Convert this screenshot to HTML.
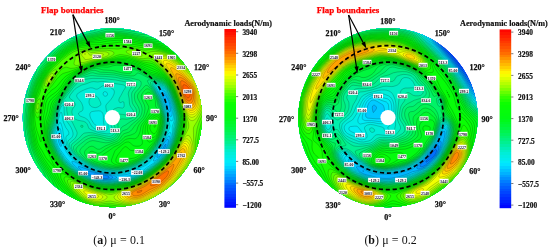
<!DOCTYPE html>
<html lang="en"><head><meta charset="utf-8"><title>Aerodynamic loads</title>
<style>
html,body{margin:0;padding:0;background:#fff;}
body{width:550px;height:252px;overflow:hidden;position:relative;font-family:"Liberation Serif",serif;}
svg{position:absolute;left:0;top:0;display:block;font-family:"Liberation Serif",serif;}
.cap{position:absolute;top:231.9px;font-size:11.9px;line-height:16px;color:#111;white-space:nowrap;word-spacing:.3px}
</style></head><body>
<svg width="550" height="252" viewBox="0 0 550 252">
<defs>
<clipPath id="clip"><circle r="89.6"/></clipPath>
<linearGradient id="cb" x1="0" y1="0" x2="0" y2="1"><stop offset="0.00%" stop-color="#ff0600"/><stop offset="1.56%" stop-color="#ff0600"/><stop offset="1.56%" stop-color="#ff1300"/><stop offset="3.12%" stop-color="#ff1300"/><stop offset="3.12%" stop-color="#ff1f00"/><stop offset="4.69%" stop-color="#ff1f00"/><stop offset="4.69%" stop-color="#ff2c00"/><stop offset="6.25%" stop-color="#ff2c00"/><stop offset="6.25%" stop-color="#ff3800"/><stop offset="7.81%" stop-color="#ff3800"/><stop offset="7.81%" stop-color="#ff4500"/><stop offset="9.38%" stop-color="#ff4500"/><stop offset="9.38%" stop-color="#ff5100"/><stop offset="10.94%" stop-color="#ff5100"/><stop offset="10.94%" stop-color="#ff5e00"/><stop offset="12.50%" stop-color="#ff5e00"/><stop offset="12.50%" stop-color="#ff6d00"/><stop offset="14.06%" stop-color="#ff6d00"/><stop offset="14.06%" stop-color="#ff8000"/><stop offset="15.62%" stop-color="#ff8000"/><stop offset="15.62%" stop-color="#ff9300"/><stop offset="17.19%" stop-color="#ff9300"/><stop offset="17.19%" stop-color="#ffa600"/><stop offset="18.75%" stop-color="#ffa600"/><stop offset="18.75%" stop-color="#ffb900"/><stop offset="20.31%" stop-color="#ffb900"/><stop offset="20.31%" stop-color="#ffcd00"/><stop offset="21.88%" stop-color="#ffcd00"/><stop offset="21.88%" stop-color="#ffe100"/><stop offset="23.44%" stop-color="#ffe100"/><stop offset="23.44%" stop-color="#fff500"/><stop offset="25.00%" stop-color="#fff500"/><stop offset="25.00%" stop-color="#f4ff00"/><stop offset="26.56%" stop-color="#f4ff00"/><stop offset="26.56%" stop-color="#dfff00"/><stop offset="28.12%" stop-color="#dfff00"/><stop offset="28.12%" stop-color="#caff00"/><stop offset="29.69%" stop-color="#caff00"/><stop offset="29.69%" stop-color="#b5ff00"/><stop offset="31.25%" stop-color="#b5ff00"/><stop offset="31.25%" stop-color="#9cff00"/><stop offset="32.81%" stop-color="#9cff00"/><stop offset="32.81%" stop-color="#81ff00"/><stop offset="34.38%" stop-color="#81ff00"/><stop offset="34.38%" stop-color="#65ff00"/><stop offset="35.94%" stop-color="#65ff00"/><stop offset="35.94%" stop-color="#4aff00"/><stop offset="37.50%" stop-color="#4aff00"/><stop offset="37.50%" stop-color="#32ff00"/><stop offset="39.06%" stop-color="#32ff00"/><stop offset="39.06%" stop-color="#20ff00"/><stop offset="40.62%" stop-color="#20ff00"/><stop offset="40.62%" stop-color="#0dff00"/><stop offset="42.19%" stop-color="#0dff00"/><stop offset="42.19%" stop-color="#08fe03"/><stop offset="43.75%" stop-color="#08fe03"/><stop offset="43.75%" stop-color="#07fd07"/><stop offset="45.31%" stop-color="#07fd07"/><stop offset="45.31%" stop-color="#05fc0b"/><stop offset="46.88%" stop-color="#05fc0b"/><stop offset="46.88%" stop-color="#03fb0e"/><stop offset="48.44%" stop-color="#03fb0e"/><stop offset="48.44%" stop-color="#01fa12"/><stop offset="50.00%" stop-color="#01fa12"/><stop offset="50.00%" stop-color="#00f91a"/><stop offset="51.56%" stop-color="#00f91a"/><stop offset="51.56%" stop-color="#00f827"/><stop offset="53.12%" stop-color="#00f827"/><stop offset="53.12%" stop-color="#00f733"/><stop offset="54.69%" stop-color="#00f733"/><stop offset="54.69%" stop-color="#00f640"/><stop offset="56.25%" stop-color="#00f640"/><stop offset="56.25%" stop-color="#00f44e"/><stop offset="57.81%" stop-color="#00f44e"/><stop offset="57.81%" stop-color="#00f35e"/><stop offset="59.38%" stop-color="#00f35e"/><stop offset="59.38%" stop-color="#00f26f"/><stop offset="60.94%" stop-color="#00f26f"/><stop offset="60.94%" stop-color="#00f17f"/><stop offset="62.50%" stop-color="#00f17f"/><stop offset="62.50%" stop-color="#00f090"/><stop offset="64.06%" stop-color="#00f090"/><stop offset="64.06%" stop-color="#00efa3"/><stop offset="65.62%" stop-color="#00efa3"/><stop offset="65.62%" stop-color="#00efb6"/><stop offset="67.19%" stop-color="#00efb6"/><stop offset="67.19%" stop-color="#00eec9"/><stop offset="68.75%" stop-color="#00eec9"/><stop offset="68.75%" stop-color="#00eed8"/><stop offset="70.31%" stop-color="#00eed8"/><stop offset="70.31%" stop-color="#00ede3"/><stop offset="71.88%" stop-color="#00ede3"/><stop offset="71.88%" stop-color="#00ecee"/><stop offset="73.44%" stop-color="#00ecee"/><stop offset="73.44%" stop-color="#00ebf9"/><stop offset="75.00%" stop-color="#00ebf9"/><stop offset="75.00%" stop-color="#00e3ff"/><stop offset="76.56%" stop-color="#00e3ff"/><stop offset="76.56%" stop-color="#00d3ff"/><stop offset="78.12%" stop-color="#00d3ff"/><stop offset="78.12%" stop-color="#00c2ff"/><stop offset="79.69%" stop-color="#00c2ff"/><stop offset="79.69%" stop-color="#00b2ff"/><stop offset="81.25%" stop-color="#00b2ff"/><stop offset="81.25%" stop-color="#00a1ff"/><stop offset="82.81%" stop-color="#00a1ff"/><stop offset="82.81%" stop-color="#0090ff"/><stop offset="84.38%" stop-color="#0090ff"/><stop offset="84.38%" stop-color="#007eff"/><stop offset="85.94%" stop-color="#007eff"/><stop offset="85.94%" stop-color="#006dff"/><stop offset="87.50%" stop-color="#006dff"/><stop offset="87.50%" stop-color="#005eff"/><stop offset="89.06%" stop-color="#005eff"/><stop offset="89.06%" stop-color="#0051ff"/><stop offset="90.62%" stop-color="#0051ff"/><stop offset="90.62%" stop-color="#0045ff"/><stop offset="92.19%" stop-color="#0045ff"/><stop offset="92.19%" stop-color="#0038ff"/><stop offset="93.75%" stop-color="#0038ff"/><stop offset="93.75%" stop-color="#002cff"/><stop offset="95.31%" stop-color="#002cff"/><stop offset="95.31%" stop-color="#001fff"/><stop offset="96.88%" stop-color="#001fff"/><stop offset="96.88%" stop-color="#0013ff"/><stop offset="98.44%" stop-color="#0013ff"/><stop offset="98.44%" stop-color="#0006ff"/><stop offset="100.00%" stop-color="#0006ff"/></linearGradient>
</defs>
<rect width="550" height="252" fill="#fff"/>
<g transform="translate(112.4 117.6)">
<g clip-path="url(#clip)">
<circle r="90.6" fill="#0008ff"/>
<g transform="scale(.2)" stroke="#000" stroke-opacity=".8" stroke-width="1.3" stroke-linejoin="round">
<circle r="453.0" fill="#0019ff" stroke="none"/>
<circle r="453.0" fill="#002aff" stroke="none"/>
<circle r="453.0" fill="#003aff" stroke="none"/>
<circle r="453.0" fill="#004bff" stroke="none"/>
<circle r="453.0" fill="#005cff" stroke="none"/>
<circle r="453.0" fill="#0070ff" stroke="none"/>
<circle r="453.0" fill="#0087ff" stroke="none"/>
<path fill="#009eff" fill-rule="evenodd" d="M-458-458l915 0 0 915-915 0 0-915zM-88 282l-3 0-2 3 0 2 6 5 11 5 16 5 17 2 15 0 10-2 2-5-7-5-19-5-34-5-12 0z"/>
<path fill="#00b5ff" fill-rule="evenodd" d="M-458-458l915 0 0 915-915 0 0-915zM-133 267l3 5 21 15 20 10 16 6 20 4 20 2 22-2 12-5 1-5-6-5-15-5-74-14-30-6-10 0zM262 137l-10 18-5 11 0 3 5-2 10-15 5-11 1-4-1-5-5 5z"/>
<path fill="#00caff" fill-rule="evenodd" d="M-458-458l915 0 0 915-915 0 0-915zM-168 243l-4 4 4 5 10 10 14 10 25 15 21 10 28 10 27 5 26 0 24-5 12-5 3-5-8-5-14-5-22-5-61-11-20-5-65-23zM252-125l-2 2-1 5 1 5 17 47 10 24 5 10 5 4 3-5 0-15-3-17-5-17-5-11-10-18-5-7-5-5-5-2zM272 110l-10 12-5 7-30 54-4 9-1 6 5 1 5-2 10-8 15-17 10-16 10-21 4-18 0-5-4-4-5 2z"/>
<path fill="#00e0ff" fill-rule="evenodd" d="M-458-458l915 0 0 915-915 0 0-915zM-268 97l-1 0-3 5 3 20 6 16 5 7 3-3 0-5-3-12-5-15-2-3-3-10zM-203 220l0 2 5 10 9 10 23 20 21 15 28 15 22 10 22 7 25 5 25 1 20-2 71-16 31-10 26-10 9-5 6-5 4-5-2-2-5-1-10 3-40 17-20 6-25 3-15 0-85-16-35-8-30-10-20-9-45-24-10-3-5 2zM242-140l-5 2-1 5 2 10 11 25 18 50 10 23 5 11 5 7 5 3 5-4 2-10 0-10-4-25-3-13-5-16-10-23-10-17-9-11-6-4-5-2-5-1zM282 92l-5 3-5 5-15 21-23 41-22 35-7 15 1 5 1 1 5-1 5-3 10-6 10-8 15-15 15-21 11-22 4-10 5-15 2-10-1-10-1-4-5-1z"/>
<path fill="#00ecf7" fill-rule="evenodd" d="M-458-458l915 0 0 915-915 0 0-915zM-268 56l-10 12-5 19 0 15 5 22 5 14 5 11 10 16 25 35 27 32 15 15 25 20 15 10 28 15 21 10 24 8 20 5 20 3 20 0 15-2 52-9 23-5 16-5 28-10 11-5 18-10 27-22 50-33 15-12 15-16 15-20 15-28 6-14 4-14 2-16 0-10-2-11-5-2-5 3-10 13-15 23-28 49-22 33-20 26-15 14-15 8-24 9-31 13-25 10-25 6-15 1-10 0-20-2-65-11-25-6-20-6-25-10-20-9-45-27-10-7-7-7-9-10-11-15-5-10-9-25-8-30-3-15-3-29-5-10-5 3zM232-148l-5 4 0 6 5 13 17 37 18 53 15 35 5 9 5 7 5 1 5-6 1-4 2-10 0-15-3-23-5-22-10-30-12-25-7-10-6-8-8-7-7-4-5-2-10 1z"/>
<path fill="#00ede8" fill-rule="evenodd" d="M-458-458l915 0 0 915-915 0 0-915zM222-154l-2 6 2 10 22 45 18 55 22 60 3 15 1 5-1 5-3 10-15 30-47 80-25 34-10 11-15 14-10 7-10 6-60 25-30 10-25 4-10 0-15-1-75-13-35-10-35-13-16-9-47-30-15-15-14-20-7-15-5-15-8-50-4-30-4-15-5-15-5-3-15 28-7 15-3 15-1 10 0 10 6 23 10 24 10 18 24 35 27 30 16 15 25 20 22 15 31 16 30 12 27 7 28 3 30-1 45-7 25-5 15-4 32-11 22-10 16-10 70-51 20-17 20-23 15-24 12-25 5-15 4-15 2-20-1-35 1-5 7-21 3-14 0-10-2-25-6-30-10-31-15-33-11-16-9-9-5-3-5-3-10-3-10 0-5 2z"/>
<path fill="#00eed9" fill-rule="evenodd" d="M-458-458l915 0 0 915-915 0 0-915zM-83-33l-15 2-5 1-5 3-3 4-2 5 0 5 2 10 4 10 9 15 5 7 8 8 13 10 9 5 5 1 5 0 3-1 6-5 2-5 0-5-3-20 0-25-2-10-2-5-4-5-5-4-10-2-15 1zM-43-128l-3 5-1 5 4 8 5 3 5 0 5-2 3-4 1-5-2-5-2-3-5-3-5-1-5 2zM217-160l-2 2-1 5 2 10 21 40 6 15 32 100 4 20-1 15-3 15-11 25-40 70-12 18-15 20-11 12-14 13-10 7-15 9-50 22-20 7-20 5-15 3-10 1-15-1-25-3-35-5-25-6-20-5-20-7-20-9-15-8-44-28-11-9-14-16-6-10-5-10-4-10-3-15-2-20-1-10 1-5 3-5 1-2 7-3 3-4 0-9-5-11-10-13-10-22-5-16-5-36-5-3-5 9-11 45-14 34-3 11-2 10 0 15 1 10 4 15 10 26 15 26 20 29 17 19 25 25 25 20 23 16 38 19 26 10 26 7 30 4 30-1 60-10 22-5 31-10 23-10 17-10 43-30 29-22 20-17 20-23 15-23 15-30 5-15 5-20 4-45 7-35 1-20-2-25-10-40-10-29-10-21-5-10-7-10-8-10-7-5-8-5-10-4-5-1-10 1-5 2z"/>
<path fill="#00eec5" fill-rule="evenodd" d="M-458-458l915 0 0 915-915 0 0-915zM-48-159l-5 3-15 10-5 3-5 1-5 0-15-6-10-1-10 2-20 7-15 7-17 10-5 5-3 5-1 5 2 5 3 5 13 15 7 10 4 10 3 10 0 10-1 5-5 6-10 4-6 5 0 5 2 5 5 5 24 9 10 6 10 11 14 24 4 5 7 5 15 9 10 4 10 3 10 0 11-1 9-4 5-6 1-5 0-15-4-30-2-30-5-30 0-5 1-5 4-5 20-22 9-13 7-15 2-10-1-5-2-5-5-5-15-10-10-4-10-3-10 0-5 1zM227-168l-10 1-5 2-2 2-1 5 0 5 6 15 21 40 8 20 21 70 6 20 2 20 0 15-5 20-8 20-41 70-13 20-14 17-10 11-14 12-11 8-13 7-52 23-25 8-15 4-15 3-15 0-40-5-30-5-25-5-20-7-20-7-20-10-50-33-14-11-8-10-11-20-5-15-3-15 2-10 4-5 10-7 7-8 4-10 0-10-4-15-7-15-10-15-11-15-6-10-3-12-3-18-1-35-1-3-5-2-5 4-5 8-5 12-5 17-10 44-17 45-2 10 0 10 0 10 3 15 4 15 6 15 6 13 10 17 20 30 17 20 25 25 25 20 23 16 35 18 27 11 28 8 15 3 15 2 30-1 45-6 34-6 31-9 27-11 19-10 29-20 35-25 25-21 20-21 15-20 16-28 10-25 6-20 3-15 4-35 6-35 1-10 0-10-2-15-8-40-11-33-15-34-11-18-9-10-5-4-15-8-15-3zM-95-108l7-1 5 0 5 3 8 8 10 20 3 10-2 5-5 5-9 5-10 3-5 0-10-2-5-2-6-4-4-5-2-5-2-5 0-10 3-10 4-5 6-5 9-5z"/>
<path fill="#00efac" fill-rule="evenodd" d="M-458-458l915 0 0 915-915 0 0-915zM-103-179l-10 3-20 8-20 5-25 14-10 8-5 5-18 23-2 5-2 5 1 5 19 15 7 10 2 5 0 5-2 5-10 13-3 7-2 10 2 10 4 10 6 10 8 7 10 4 30 6 10 5 7 8 8 20 4 5 6 3 31 12 14 4 35 5 10 0 5-1 6-3 4-5 2-5 1-5-1-5-7-25-3-20 0-15 3-17 5-11 5-6 10-8 15-5 5 0 15 2 5 0 6-5 1-10-2-15-5-2-10 5-5 0-5-8 0-5 1-5 2-5 9-15 10-20 10-15 2-5-2-5-8-5-14-3-35-5-45-9-15-1-20 3-20-2-10 1zM222-173l-10 1-5 2-2 2-2 5 1 5 5 15 24 45 8 20 18 60 6 20 3 25 0 20-5 20-7 20-8 15-23 40-16 25-12 15-13 15-12 11-15 11-15 9-45 21-30 10-15 4-15 3-15 0-30-3-35-5-20-4-30-9-25-10-14-8-44-30-13-10-9-11-11-19-6-15-1-10 2-5 5-5 13-10 10-10 6-10 2-5 2-10-3-10-10-20-12-25-4-5-13-14-3-6-7-30-2-45-3-5-5 1-10 6-5 5-5 8-5 11-10 34-8 35-17 47-3 18 0 10 2 15 6 20 5 15 15 29 14 21 11 15 18 20 26 25 25 20 26 16 35 18 29 11 26 7 30 3 15 0 20-1 50-8 30-6 30-10 22-10 18-10 37-25 33-25 25-23 19-22 16-24 13-26 7-20 6-20 12-75 1-20-2-25-10-40-12-35-8-20-7-13-11-17-14-14-15-8-10-2-10-1z"/>
<path fill="#00f093" fill-rule="evenodd" d="M-458-458l915 0 0 915-915 0 0-915zM-118-194l-35 6-10 4-10 8-20 22-43 56-17 20-10 16-8 24-16 60-13 35-4 20 0 20 4 20 7 20 12 25 15 25 18 25 23 25 22 20 27 20 23 14 35 17 30 12 25 6 25 3 25 0 25-2 40-6 30-7 30-10 28-12 25-15 35-25 32-26 20-19 17-20 13-20 13-25 10-25 7-25 10-65 2-15 0-15-4-25-8-35-10-30-15-35-10-16-10-13-10-9-10-6-15-5-15-1-15 3-3 2-1 5 1 10 4 10 24 42 10 23 23 75 4 25 0 15-1 15-3 15-4 15-6 15-11 20-24 40-22 30-11 12-10 9-25 18-15 8-20 10-30 11-30 9-20 3-25 0-40-5-25-5-35-10-25-11-23-14-34-25-8-6-8-9-7-10-5-10-3-10 0-5 1-5 3-5 36-30 18-20 5-3 5-2 20-2 20 1 30 8 50 10 10-1 11-6 4-5 4-5 2-5 2-10-1-10-7-20-3-15 1-10 1-5 6-9 5-4 5-3 15-3 15 1 30 6 10-1 5-3 5-4 2-5 1-5 0-5-2-5-11-15-5-10-2-10-1-20-5-25 2-10 2-5 13-20 2-5-1-5-3-5-6-5-11-4-30-5-30-6-65-7-50-1-20 2zM-160 42l2-2 5-2 5 2 1 2 0 5-1 1-5 1-4-2-3-5z"/>
<path fill="#00f17c" fill-rule="evenodd" d="M-458-458l915 0 0 915-915 0 0-915zM-423-160l-5 4-5 7-10 23-5 17-1 11 1 16 5 9 2-5 3-5 5-15 5-21 5-24 1-10-1-7zM-103-444l-4 1-11 5-3 5 3 0 13 0 22-5 7-5-7-4-5 0-15 3zM-118-208l-25 6-15 5-10 5-10 8-15 17-21 29-19 24-25 36-8 15-9 25-15 55-14 40-4 20 1 15 3 20 8 25 9 20 17 30 18 25 18 20 27 25 26 20 24 15 34 17 30 11 25 7 25 4 25 1 25-2 45-7 30-6 30-10 25-11 24-14 36-25 35-28 20-19 16-18 14-21 13-24 12-30 8-25 10-60 2-19 0-16-4-25-10-40-16-43-10-22-10-16-10-13-10-8-10-6-15-5-15-2-20 2-6 3-1 5 1 5 3 10 11 20 18 30 9 20 24 75 4 20 1 15 0 15-2 15-5 20-5 15-10 20-17 28-18 27-12 16-20 20-15 12-15 10-15 8-25 12-40 13-20 5-20 1-33-2-32-5-22-5-31-10-22-10-16-10-40-30-10-10-4-5-5-10-2-10 0-5 3-5 5-5 44-36 10-6 15-6 15-2 10 0 40 9 25 7 10 2 5-1 10-2 9-5 6-5 5-7 4-8 5-15 2-15-1-20 1-5 4-7 5-5 10-4 25 2 10-2 10-2 10-5 5-3 5-5 6-9 3-10-1-10-4-10-11-15-5-10-2-10-2-30 1-10 2-5 19-25 2-5 1-5-2-5-4-5-8-6-15-7-15-4-30-4-30-7-55-5-35-1-25-3-10 0-10 2z"/>
<path fill="#00f267" fill-rule="evenodd" d="M-458-458l359 0-19 5-29 10-16 6-18 9-15 10-16 15-3 5 2 2 5 1 21-3 18-5 36-13 56-12 39-12 10-2 20-1 25 1 65 7 30 5 10 0 6-3-2-5-7-5-16-5-16-3-26-7 396 0 0 915-915 0 0-385 5 16 10 21 5 7 5 1 1-10 0-10-5-50-1-20 2-50 5-40 6-30 14-55 11-35 17-40 5-20 0-2-5 2-5 4-10 10-10 14-35 58-9 24-6 20 0-345zM-293-349l-10 6-15 10-15 13-10 11-10 14-7 12-4 10-1 5 2 3 5-3 15-12 20-21 20-25 15-17 2-5-2-1-5 0zM-108-223l-54 20-11 7-10 8-15 17-23 33-17 23-30 47-4 10-6 15-15 57-13 38-5 20 0 15 2 20 6 20 8 20 15 30 20 30 17 20 26 25 24 19 25 17 30 16 30 14 25 8 25 6 25 2 25 0 35-4 45-8 25-7 30-12 30-16 30-20 35-27 25-22 19-21 15-20 14-25 13-30 5-15 4-15 10-54 3-21 0-20-3-20-10-39-11-31-12-30-10-20-10-15-12-13-10-7-10-4-20-5-35-2-9 1-3 5 2 5 17 30 23 36 10 19 12 40 13 35 4 15 2 15 0 10 0 15-3 15-6 25-5 15-5 10-17 28-15 23-10 14-13 15-12 12-16 13-15 10-18 10-21 9-15 6-32 10-18 4-15 0-25-1-23-3-26-5-31-9-17-6-19-10-15-10-31-25-10-10-4-5-4-10 1-5 2-5 4-5 10-10 32-25 11-6 15-6 10-1 15 1 30 6 20 7 10 1 15-1 15-6 8-5 7-8 5-9 10-21 5-9 5-7 5-4 15-8 20-14 20-11 15-13 5-6 5-10 3-10 0-10-5-15-12-20-5-10-3-15 0-15 2-8 4-7 14-15 8-10 5-10 1-10-1-5-3-5-8-5-42-10-38-5-40-10-45-3-30-1-10-1-20-5-5-1-10 1zM-54-458l51 0-25 3-10 0-16-3z"/>
<path fill="#00f451" fill-rule="evenodd" d="M-458-458l328 0-33 12-25 12-75 52-45 26-10 8-10 8-15 16-13 16-28 40-24 32-8 13-15 30-18 30-9 21 0-316zM111-458l346 0 0 915-915 0 0-354 15 37 20 41 10 17 15 19 2-5-7-29-11-36-12-75-4-25-1-15 2-55 3-30 5-30 6-25 9-35 10-30 6-15 28-55 11-15 48-53 15-16 20-18 20-16 15-10 15-8 15-6 75-25 85-19 15-3 30-1 25 1 50 5 55 10 30 2 10-1 3-2-5-5-27-20-16-10-16-5zM-108-234l-56 26-14 9-10 10-15 17-35 50-34 54-8 20-15 55-14 40-4 20-2 15 2 20 5 20 7 20 15 30 19 30 15 20 25 25 24 20 30 21 30 17 30 13 30 10 20 5 25 3 25 0 35-3 50-9 25-7 25-9 30-15 32-21 33-25 29-25 21-23 15-20 13-22 13-30 9-25 5-20 10-55 1-25-4-25-8-35-9-26-15-39-10-20-10-15-13-15-12-9-10-5-10-2-35-4-10-3-20-9-24-13-11-4-5-1-5 2-6 8-9 4-15 1-40-5-45-10-25-2-40-2-6-1-19-7-5-1-10 0-10 2zM162-158l5-3 5 0 5 2 5 4 20 26 15 23 8 18 9 30 14 35 5 20 2 15 1 15-3 20-4 20-6 20-6 12-10 18-20 30-14 20-13 15-13 12-16 13-19 12-20 10-21 8-34 11-20 5-15 0-25-1-30-5-20-4-35-11-10-4-13-6-15-10-16-15-15-15-6-10 0-5 1-5 7-10 10-10 17-15 15-9 5-1 10-2 10 1 40 8 15 2 10-1 10-2 25-9 10-6 6-6 14-25 5-7 5-4 5-2 15-5 5-3 22-24 28-22 12-13 5-10 3-10 2-15-1-10-4-15-16-30-3-10 1-10 5-10 31-35z"/>
<path fill="#00f63e" fill-rule="evenodd" d="M-458-458l302 0-17 7-20 12-80 53-40 23-10 7-9 8-35 40-25 35-21 28-7 12-17 35-21 35 0-295zM136-458l321 0 0 915-915 0 0-330 14 35 26 52 15 27 20 31 15 18 15 12 10 3 5-1 1-2 2-5-2-10-9-20-25-40-14-25-6-15-13-35-5-20-10-55-5-30-1-15 1-40 2-25 6-45 6-30 11-40 13-35 21-40 11-20 12-15 49-55 25-23 25-20 20-13 20-9 75-27 15-3 75-16 20-2 30-1 25 2 40 5 75 14 30 7 10 0 10-2 4-2 2-5-1-5-3-5-5-5-7-5-30-14-26-16zM-98-244l-16 6-49 25-15 10-12 10-13 14-8 11-32 47-31 48-5 10-5 15-14 49-14 41-4 20-2 20 1 15 3 15 6 20 13 30 14 25 17 25 17 20 29 27 25 19 30 19 35 18 25 10 30 9 20 3 25 2 25-1 35-4 40-7 30-9 30-12 25-14 31-20 29-22 25-22 21-21 16-20 15-25 15-30 11-30 7-30 8-50 0-20-2-20-9-35-7-25-20-50-7-15-8-13-10-13-10-10-10-7-10-5-10-3-35-5-10-3-15-7-40-23-13-6-7-2-10 0-4 2-2 10-2 5-7 3-10 0-30-4-40-10-10-2-40-2-10-2-15-4-10-2-10 0-10 2zM171-143l6-1 5 2 10 9 15 19 10 16 5 13 6 27 14 29 5 13 5 18 1 15-1 20-3 20-5 20-6 15-11 20-10 15-30 42-12 13-13 12-17 13-16 10-17 8-17 7-43 14-15 3-15 1-15-1-20-2-27-5-49-15-12-5-15-10-10-10-8-10-5-10-1-5 2-9 4-6 11-11 10-6 10-2 5 1 5 2 15 10 5 2 5 0 5 0 5-3 22-13 58-23 10-7 5-5 10-16 5-6 5-4 5-2 20-6 9-6 6-6 17-24 33-32 6-8 4-10 4-15 2-20-3-15-14-30-2-10 0-5 1-5 5-10 12-14 5-4 4-2z"/>
<path fill="#00f72d" fill-rule="evenodd" d="M-458-458l280 0-20 12-80 54-45 24-15 12-37 43-23 33-21 27-9 15-15 35-15 24 0-279zM152-458l305 0 0 915-915 0 0-306 45 94 15 26 15 21 9 10 11 9 10 7 15 9 10 4 5 0 5-2 2-2 3-5-1-10-6-15-23-40-22-35-11-20-10-20-10-25-5-15-5-25-10-55-3-25 0-35 1-30 7-50 6-30 11-40 11-30 7-15 26-45 19-25 38-42 25-24 30-23 20-13 20-10 25-9 50-17 85-17 25-2 30-1 30 2 30 4 70 14 40 10 25 1 10-1 5-2 3-5 1-5-2-5-6-10-10-10-7-5-9-5-30-11-15-9zM2-259l-15 5-10 2-10 0-35-2-15 2-17 4-23 10-45 24-15 10-12 11-9 10-12 15-47 71-13 19-6 10-7 20-9 34-17 51-5 20-2 15 1 20 3 20 6 20 8 20 13 25 16 25 15 20 14 15 21 20 19 15 28 19 25 14 30 15 25 9 30 8 25 4 30 0 30-2 55-10 30-9 30-12 29-16 36-24 33-26 22-20 22-25 14-20 14-25 13-30 9-25 10-45 4-30 0-25-3-20-10-35-12-35-13-35-10-20-13-20-15-16-10-7-15-6-40-8-15-5-50-29-10-4-15-6-38-9-17-3-30-1-20 3zM170-123l7-4 5 0 5 2 10 8 10 14 6 10 2 10 1 25 2 5 14 15 10 17 6 18 2 20 0 15-3 20-5 20-5 15-5 10-10 17-40 55-12 13-17 15-14 10-17 10-24 10-43 15-18 4-10 1-15-1-26-4-25-5-34-12-10-3-12-5-8-5-10-10-5-10-1-10 1-5 5-6 5-2 5-1 5 1 20 9 5 1 10-2 10-6 20-15 25-14 10-5 20-8 10-5 9-7 16-17 5-4 10-4 20-5 10-4 10-5 5-5 5-9 5-17 5-10 7-10 18-19 7-11 5-10 11-30 2-10-2-5-14-25-5-10-1-5 0-10 2-5 3-5 5-5z"/>
<path fill="#00f91c" fill-rule="evenodd" d="M-458-458l260 0-79 55-17 10-39 19-14 11-18 20-19 20-27 40-19 25-9 15-9 30-5 10-5 7 0-262zM171-458l286 0 0 915-915 0 0-285 16 30 16 45 7 15 14 25 12 15 10 10 27 20 23 21 10 6 10 2 10 0 6-4 4-5 1-5-1-10-1-5-3-10-6-13-63-102-12-23-12-27-5-15-5-20-11-60-3-20-1-25 2-45 5-45 6-30 12-40 12-35 10-20 24-40 23-30 33-35 27-25 28-21 20-13 20-10 35-12 40-13 80-15 40-3 25 0 25 2 25 4 65 13 35 9 15 3 40 4 10 0 5-2 5-6 0-5-2-10-9-15-13-15-11-9-10-5-36-11zM7-268l-35 6-45 4-15 3-15 4-19 8-51 27-15 11-13 12-16 20-16 25-35 50-11 15-6 10-7 15-11 42-15 43-4 20-3 20 0 20 1 15 5 20 9 25 15 30 15 25 15 20 14 15 23 22 20 15 30 20 25 14 35 16 25 9 25 7 25 4 30 0 35-3 50-10 30-8 30-13 30-16 33-22 32-25 25-23 20-22 18-25 14-25 16-35 8-25 9-40 4-30 0-25-5-25-11-40-17-45-10-25-11-20-15-20-10-10-10-7-15-7-10-3-25-5-20-6-50-29-10-4-15-6-35-9-20-4-25-1-20 1zM179-103l3-3 5 0 5 3 4 5 2 5-1 6-5 2-5-1-3-2-4-5-2-5 1-5zM205-33l12-2 5 1 5 2 5 4 5 6 5 10 4 14 2 15-1 15-3 20-7 27-10 21-10 16-35 46-18 20-17 15-15 10-10 6-23 9-22 7-20 8-19 5-11 1-10-1-44-10-15-5-8-5-6-5-4-5-2-5 1-5 2-5 5-5 11-10 25-16 25-19 25-11 10-7 20-17 10-5 15-3 25 2 5-2 5-3 5-6 5-9 4-9 3-10 3-20 4-10 3-5 20-25 18-27 10-9 8-4z"/>
<path fill="#01fb12" fill-rule="evenodd" d="M-458-458l239 0-44 33-18 12-12 7-15 7-38 16-10 5-7 5-16 15-26 15-4 5-2 5-3 20-6 15-8 11-21 24-6 10-2 10-1 12 0-227zM227-458l189 0 0 15 2 10 4 9 4 6 6 5 5 3 10 2 10 0 0 865-46 0 2-20 5-15 14-25 5-6 13-9 0-5-6-5-10-5-7-2-12-3-18-2-10 1-10 4-10 7-18 15-7 7-6 8-9 20-5 15-5 20-521 0-9-18-5-5-5-3-5 0-5 3-5 4-1 4 1 15-220 0 0-263 5 10 4 13 5 35 3 10 5 10 11 20 11 15 6 7 11 8 22 15 11 10 7 10 11 20 8 10 10 7 10 5 20 5 5-1 25-7 8-4 3-5 0-5-3-10-17-30-16-33-65-101-10-18-13-28-7-17-5-18-15-80-2-25 1-50 5-40 6-32 14-48 11-30 22-40 16-25 27-33 30-30 25-22 30-22 20-12 20-9 35-12 35-9 40-7 40-7 45-3 25 0 20 2 20 3 65 14 40 10 60 11 15 1 10 0 5-2 3-3 2-5-2-10-11-30-5-10-12-14-10-10-10-6zM12-274l-40 7-40 4-20 4-15 4-20 9-50 26-15 10-14 12-9 10-8 10-19 29-25 36-24 30-9 15-4 15-8 32-15 43-3 15-3 25-1 20 2 15 4 20 8 25 11 25 20 35 14 20 14 15 22 20 18 15 30 20 24 14 35 17 25 10 30 9 25 4 30 1 30-2 55-10 25-6 35-14 25-13 35-22 30-23 30-25 19-20 20-25 15-25 17-35 12-30 9-40 5-30 0-20-2-20-9-35-9-30-17-45-10-22-15-25-15-19-10-8-15-8-15-6-25-5-15-5-14-7-41-23-20-8-35-10-15-3-30-3-20 1zM215-23l7-1 5 2 5 3 5 6 5 11 2 14 0 15-2 19-5 21-5 16-10 19-10 13-28 32-18 25-9 10-12 10-23 15-11 5-39 12-25 11-10 2-12 0-16-5-8-5-4-5-2-5 0-5 17-45 4-5 5-5 41-31 10-4 5 0 5 0 8 5 12 11 5 3 10 2 10 0 8-1 7-3 3-2 4-5 1-5 0-5-3-20 1-10 6-45 3-10 10-15 25-31 10-8 5-3 8-3z"/>
<path fill="#04fc0d" fill-rule="evenodd" d="M-384-458l132 0-29 25-15 10-11 5-16 5-20 3-35-3-5-2-5-3-2-5 4-20 2-15zM349-433l3 0 5 1 5 3 25 29 8 12 12 29 5 5 5 2 5 1 20-5 15-1 0 656-20 6-35 7-10 4-10 6-15 13-45 47-25 33-10 11-5 4-10 6-27 11-13 10-409 0-6-10-10-20-10-15-35-38-20-23-10-14-26-45-24-35-35-55-25-48-5-13-4-14-14-70-3-20-1-55 3-35 3-20 4-20 19-65 10-25 18-32 15-23 24-30 26-27 25-23 25-19 25-17 20-10 26-9 49-13 40-6 35-7 50-4 25 0 20 2 18 3 102 22 35 7 55 13 20 3 15 0 5-1 5-4 2-5 0-5-1-5-7-15-3-15 0-5 5-5 19-8 15-10 7-2zM12-278l-35 6-50 6-30 8-20 8-53 27-16 10-11 10-11 10-8 10-21 32-25 35-10 12-16 16-7 10-6 15-7 35-15 45-4 25-2 25 1 20 3 20 6 25 10 25 19 35 15 25 17 20 28 25 18 14 30 19 30 16 35 17 25 9 30 9 25 3 30 1 25-2 60-12 30-9 30-12 30-16 35-24 30-23 25-22 21-23 15-20 15-25 17-35 12-30 9-35 6-35 0-20-2-20-9-35-10-30-19-50-9-20-16-27-15-18-15-12-10-6-20-8-25-6-10-4-50-26-25-11-30-8-20-4-30-2-20 2zM215-13l7-1 5 1 6 5 4 5 2 5 2 10 0 10-4 32-5 19-5 12-10 16-10 11-10 7-10 4-5-1-5-5-5-7-5-10-2-8-2-20 2-25 3-10 2-5 17-22 15-16 5-3 8-4zM61 147l6-2 5 2 10 10 5 4 5 3 10 1 35 0 9 2 2 5-2 5-9 10-15 10-12 5-23 4-10 2-10 6-11 8-9 5-10 3-10-2-3-1-5-5-2-5 1-10 4-10 5-10 23-30 4-5 7-5zM-458 357l0-3 25 1 15 2 10 5 0 5-10 10-14 10-16 8-10 3 0-41z"/>
<path fill="#06fd08" fill-rule="evenodd" d="M-19-393l46-3 20 1 15 1 40 10 110 20 105 30 10 1 20-4 10 0 5 2 20 14 15 8 12 10 10 10 19 25 19 22 0 489-5 9-5 5-19 15-36 25-20 17-35 38-50 52-15 12-30 16-38 25-342 0-10-2-5-2-10-8-30-38-39-40-21-24-10-12-8-14-18-35-24-34-34-51-26-49-5-12-4-14-13-65-3-20-2-65 3-35 2-15 6-20 24-75 12-25 22-35 13-17 15-18 35-34 18-16 17-13 20-14 15-9 15-6 20-8 41-10 19-3 35-4 30-6 19-2zM12-283l-30 6-55 7-15 4-20 6-20 9-55 27-15 10-13 11-10 10-8 10-19 29-20 27-10 11-27 23-11 15-5 15-4 30-10 35-4 20-1 45 0 20 3 20 6 25 10 25 21 40 15 25 12 15 16 15 33 25 33 20 33 17 30 15 30 11 30 9 25 4 30 1 25-3 60-12 25-7 35-15 25-13 35-23 30-23 25-21 20-20 20-25 16-25 20-40 12-30 10-35 4-30 1-25-3-20-9-35-10-30-18-50-9-20-9-16-10-16-15-18-15-13-20-11-15-6-30-11-50-23-20-8-30-9-20-5-30-1-25 2zM215-3l7-2 5 2 5 4 3 6 2 8 0 17-5 25-5 16-5 10-5 8-5 5-5 3-5 1-5-1-5-3-5-5-6-9-5-15-1-10 0-10 2-6 4-9 10-15 11-12 5-4 8-4z"/>
<path fill="#09fe03" fill-rule="evenodd" d="M-23-383l55-4 25 1 45 10 105 17 30 7 40 13 35 15 60 24 15 8 10 9 15 16 26 29 19 25 0 338-2 7-2 25-2 10-11 40-5 15-16 30-11 15-9 10-32 29-36 41-44 45-10 9-10 6-55 33-32 17-281 0-37-13-10-5-15-12-54-55-27-30-12-15-6-10-5-10-16-42-6-13-7-10-27-30-10-12-18-33-12-19-5-9-5-12-3-10-5-30-8-30-3-20-4-65 1-30 3-15 4-16 28-84 12-25 19-30 26-33 35-35 20-17 15-12 20-14 15-9 15-7 15-5 29-8 36-6 40-1 40-8zM17-289l-40 9-50 7-20 4-15 5-20 9-57 27-17 10-19 15-15 15-22 34-10 12-15 15-30 21-10 11-4 7-6 16-4 29-7 35-3 20 1 75 1 15 9 40 5 15 18 35 13 30 4 10 7 10 13 10 18 10 42 25 43 23 40 20 25 10 25 8 20 5 20 3 30 1 25-2 60-14 25-7 35-14 25-14 35-22 30-23 28-24 19-20 21-25 15-25 20-40 13-30 10-35 5-30 0-25-3-20-10-35-9-30-19-50-10-23-10-18-10-16-15-18-20-17-15-10-15-8-30-13-70-26-30-9-15-3-30-2-25 2zM221 7l6 3 3 7 1 10-3 20-1 6-5 14-5 8-5 5-5 1-5-2-2-2-8-10-4-10-1-5 2-10 3-10 10-14 10-8 5-3 4 0z"/>
<path fill="#16ff00" fill-rule="evenodd" d="M7-373l30-4 20 1 45 10 50 7 40 3 17 3 33 8 35 12 15 7 40 21 40 23 20 14 15 13 26 27 9 12 15 24 0 284-10 25-3 10-3 35-5 20-6 20-9 20-13 25-14 20-32 33-35 42-45 44-15 12-55 33-35 17-25 9-154 0-21-3-30 2-15 0-10-1-15-4-40-16-10-5-15-10-40-37-20-21-24-30-9-15-7-15-1-10 0-5 1-5 5-2 10 1 35 15 80 39 25 10 25 8 20 5 20 2 20 1 20-1 25-5 60-15 30-11 25-12 30-17 30-21 40-32 21-20 22-25 14-20 14-25 22-45 10-25 8-30 4-25 0-20-4-25-13-45-26-70-10-25-14-25-13-19-20-21-20-17-25-17-15-7-40-11-69-23-21-4-25 0-15 1-50 11-45 7-30 7-30 12-69 31-35 20-16 15-25 31-9 9-6 5-15 10-10 9-10 11-7 10-7 15-4 10-6 40-10 45-1 20 2 35-2 35 2 25-2 4-5-9-3-15-12-33-5-20-10-77 1-20 4-23 5-15 13-32 13-45 8-20 9-15 12-19 15-20 19-21 31-31 35-28 15-11 15-9 25-11 20-5 25-4 25-2 40 0 35-6 35-3zM210 37l2-4 5 3-1 6-4 7-3-2-1-5 2-5z"/>
<path fill="#2fff00" fill-rule="evenodd" d="M47-363l20 1 85 13 40 0 15 2 20 4 20 5 20 7 15 6 15 8 35 21 45 30 20 15 20 19 13 14 10 15 17 27 0 202-8 31-6 35-9 30-2 35-4 20-8 25-17 35-9 15-7 10-30 33-29 37-41 40-15 13-50 33-30 16-30 12-30 8-15 3-15 0-30-4-55-4-35-4-10 0-30 3-15-1-20-4-35-14-15-7-15-11-30-26-22-23-12-15-15-25-4-10-1-5 1-5 3-4 5-2 10 1 10 3 25 10 65 31 25 9 25 8 20 4 20 3 20 1 15-1 20-5 65-18 25-9 30-14 35-20 30-21 37-31 21-20 22-25 14-20 15-25 22-45 11-25 6-20 5-25 1-20-2-20-5-25-15-45-27-72-10-22-15-26-10-14-20-22-35-31-10-8-10-6-10-3-25-4-20-4-20-6-40-14-15-3-20-2-20 1-10 2-40 12-55 9-25 6-25 9-50 21-45 16-25 7-5 2-10 7-10 9-10 11-22 30-31 35-10 15-4 10-3 11-5 39-4 15-6 21-5 12-5 7-5-3-5-9-4-13-2-10 0-20 4-20 7-18 14-27 4-15 7-30 3-10 4-10 7-15 16-24 25-29 31-32 30-25 27-20 17-10 15-6 20-6 25-3 65 0 40-4 40-1 35-5z"/>
<path fill="#4eff00" fill-rule="evenodd" d="M51-348l11-2 10 0 35 3 15 2 30 7 10 1 30-3 20 1 35 7 15 4 15 6 17 9 31 20 57 41 20 17 17 17 13 15 18 30 7 15 0 148-14 42-8 30-10 55-1 40-4 20-5 15-6 15-15 30-13 20-29 35-27 35-18 18-35 32-50 34-25 13-25 11-15 5-25 7-15 3-15 0-120-14-15 1-25 3-15 0-15-3-20-6-25-11-15-9-20-16-20-18-15-15-10-15-10-20-2-10 2-5 5-4 5 0 10 2 21 7 59 27 45 16 25 6 25 4 15 1 15-1 15-4 75-23 30-12 25-12 30-18 30-21 35-28 21-20 23-25 14-20 15-25 24-45 12-25 7-20 5-20 3-20-1-20-4-20-21-65-29-75-18-35-13-20-18-21-35-35-15-13-15-9-10-3-25-1-20-3-20-6-30-11-15-5-25-4-15-1-15 4-31 13-14 4-50 9-20 5-25 8-45 17-25 7-20 2-5-1-15-5-5 0-10 3-10 6-15 17-10 14-14 24-10 15-16 19-10 8-10 6-5 1-3-4-2-5 1-15 2-10 3-10 11-20 13-18 25-27 42-40 32-25 24-15 12-5 14-5 16-3 20-3 10 0 30 2 45-4 20 0 50 3 10 0 19-5zM-364-93l1-1 1 1 2 5 1 5 1 15-2 15-3 12-5 12-5 6-5 0-5-8-2-7 0-10 1-15 6-16 5-8 5-5 4-1z"/>
<path fill="#73ff00" fill-rule="evenodd" d="M-135-338l12 0 25 5 40-4 30 0 15 2 10 3 8 4 3 5-1 5-5 5-8 5-10 5-14 5-58 12-70 22-15 3-10 0-6-2-3-5 1-10 5-15-1-15 3-5 12-10 14-8 10-4 13-3zM83-338l19-1 20 2 15 4 20 7 10 3 5 1 5-1 12-5 8-2 20-1 30 4 15 4 10 4 15 8 30 19 65 49 15 13 15 14 10 12 8 11 17 30 6 15 4 14 0 100-23 56-7 20-4 15-7 50 0 15 0 30-2 20-4 15-6 15-10 20-8 15-14 20-50 65-15 16-35 32-50 34-15 9-25 11-25 10-25 7-15 2-20 0-110-15-15 0-35 5-15-1-10-1-25-8-25-12-20-14-20-18-17-17-10-15-6-15 0-5 1-5 2-2 5-2 5 0 15 3 65 29 40 14 40 10 25 3 15-1 10-3 30-11 50-16 40-17 35-19 25-17 20-14 44-37 26-27 21-28 18-30 39-75 6-15 4-15 2-15-1-15-2-15-6-20-49-135-17-34-15-24-15-18-20-22-30-31-15-13-10-5-10-3-5 0-20 3-10 0-15-2-18-6-31-15-9-5-5-5 1-5 7-3 6-2zM-289-238l6-2 3 2 0 5-6 20-4 10-8 15-10 15-10 10-10 6-5 1-5-2-2-5 0-5 2-10 3-10 7-13 5-8 10-11 15-13 9-5zM-375-68l2-4 5 1 1 8-1 12-5 10-5-1-1-6 1-15 3-5z"/>
<path fill="#98ff00" fill-rule="evenodd" d="M-137-333l9-1 5 1 15 7 5 1 10 0 30-5 25 1 7 1 8 3 4 2 2 5-2 5-7 5-12 5-18 5-37 8-45 13-10 2-10 0-5-1-2-2-1-5 3-15-1-10 0-5 3-5 4-5 4-3 5-3 11-4zM107-328l5-1 10 1 15 5 7 5 4 5 0 5-6 2-10 0-9-2-11-5-7-5-3-5 5-5zM206-318l11-3 15-1 15 2 15 3 10 4 10 4 35 23 65 51 29 27 8 10 10 15 11 20 6 15 7 25 4 25 0 41-5 16-13 28-17 34-13 21-4 10 0 15 1 40 3 35 0 15-1 10-4 15-9 25-14 25-16 25-41 55-22 24-29 26-16 12-45 30-15 7-25 11-20 7-20 6-15 2-10 1-50-6-65-15-15 1-35 7-20 1-20-4-25-9-15-8-15-11-19-17-15-15-7-10-5-10 0-5 0-5 6-5 10 0 15 5 50 22 40 14 55 15 15 2 10-2 10-3 28-13 52-18 40-17 15-8 20-12 40-27 45-37 26-26 17-20 17-25 30-54 27-46 10-20 3-10 0-10-1-10-6-20-43-112-11-33-9-20-15-30-15-23-15-18-52-59-11-15-3-5 0-5 5-5zM-306-218l3-2 5-1 3 3 1 5-1 5-3 10-5 10-10 13-10 7-5 1-2-1-3-5 1-10 4-10 10-15 5-5 7-5z"/>
<path fill="#b8ff00" fill-rule="evenodd" d="M-139-328l6-1 7 1 6 5 2 5 5 6 10-1 25-6 15-2 10 1 7 2 2 5-7 5-16 5-16 3-35 8-15 2-5-1-2-2-1-5-10-10-3-5 2-5 4-5 9-5zM237-313l15 0 10 2 10 4 20 10 28 19 55 45 22 20 18 20 15 25 11 25 6 25 5 35-1 20-2 10-4 10-13 26-10 16-5 7-5 4-5 3-5 2-5 0-5-1-5-3-5-6-20-41-25-63-18-49-19-40-16-25-17-22-28-33-12-15-6-10-2-5-1-5 3-5 6-3 10-2zM-308-208l4 5-3 10-6 10-5 4-5 1-2-5 2-10 5-7 5-5 5-3zM371 92l1-1 5-2 5 1 5 4 7 13 5 15 3 20 1 15-3 15-6 20-8 20-15 25-46 65-18 22-30 28-20 16-40 26-15 9-45 19-15 5-15 3-10 2-15 0-40-5-18-5-14-5-11-5-6-5-4-5-1-5 3-5 11-10 17-10 11-5 57-22 25-11 20-10 25-15 25-18 20-15 30-25 25-24 21-25 16-25 33-56 15-21 9-8zM-178 337l5 0 15 5 45 18 65 22 11 5 8 5 3 5-2 5-5 5-8 5-13 5-14 2-10 1-15-3-25-8-13-7-15-10-17-15-14-15-7-10-2-5 0-5 3-4 5-1z"/>
<path fill="#d4ff00" fill-rule="evenodd" d="M-140-318l2-1 4 1-4 1-2-1zM239-303l8-2 10 0 15 4 15 7 25 17 49 39 28 25 19 20 13 20 10 20 8 25 4 25 2 30-2 15-8 20-13 22-10 10-10 4-5 1-5-1-5-3-5-4-10-15-10-20-20-48-22-61-19-40-14-21-39-49-13-20-4-10 1-5 7-5zM366 107l6-1 5 2 5 4 5 6 6 14 3 15 0 15-3 15-5 15-9 20-11 20-13 20-32 45-16 20-26 25-24 20-50 32-15 7-20 9-35 13-15 3-10 1-15-1-15-1-15-3-15-4-13-6-6-5-4-5-3-5 0-5 3-5 5-5 6-5 19-10 68-28 30-15 25-16 25-18 50-40 23-23 21-25 13-20 33-55 10-13 5-5 4-2zM-168 352l5-2 12 2 73 25 23 10 6 5 1 5-2 5-6 5-7 3-10 2-15-1-20-5-20-9-19-15-10-10-9-10-2-5 0-5z"/>
<path fill="#f1ff00" fill-rule="evenodd" d="M246-293l6-2 5-1 5 0 10 2 15 7 25 16 40 33 29 25 19 20 14 20 11 20 8 25 4 25 2 25-2 15-5 16-10 17-10 11-10 4-10 1-5-2-5-4-10-13-10-19-15-35-10-25-12-36-16-35-8-15-9-15-35-45-10-15-4-10-1-5 4-5zM357 122l5-4 5 0 5 1 5 4 3 4 6 10 2 10 1 15-2 15-5 15-9 20-11 19-14 21-31 45-17 20-23 22-25 20-50 31-36 17-29 10-15 4-10 1-15-1-15-2-15-3-11-4-9-5-5-5-3-5-1-5 1-5 4-5 6-5 19-10 64-27 30-16 25-17 25-18 46-37 20-20 22-25 14-20 28-47 10-13 5-5zM-143 367l5-1 11 1 17 5 27 10 9 5 5 5-1 5-8 4-10 1-10-1-11-4-11-5-14-10-9-10 0-5z"/>
<path fill="#fff200" fill-rule="evenodd" d="M255-283l7-3 5 0 10 2 20 11 16 10 44 36 22 19 18 20 14 20 10 20 6 20 4 25 1 25-2 15-5 15-8 12-5 5-5 3-10 3-5 0-5-2-5-3-5-5-10-15-20-44-21-59-16-35-14-25-39-55-4-10 2-5zM355 132l2-2 5-1 5 1 5 4 3 3 5 10 2 10 0 10-3 15-5 15-7 15-15 24-42 61-17 20-21 20-25 20-45 27-37 18-28 10-15 4-10 1-20-1-20-5-10-4-7-5-4-5-2-5 0-5 4-5 5-5 18-10 66-29 25-14 20-14 30-21 45-38 20-19 17-20 15-20 28-45 5-7 8-8z"/>
<path fill="#ffd700" fill-rule="evenodd" d="M267-268l5-4 5 0 5 1 15 7 15 10 40 30 20 17 20 21 13 18 8 15 7 20 4 20 1 20 0 20-3 13-6 12-4 5-5 4-10 4-5 0-5-1-5-3-10-11-10-18-15-33-18-52-20-45-11-20-27-40-4-10zM354 142l3-2 6 2 5 5 4 10 2 10-1 10-2 10-4 11-10 18-15 25-35 52-16 19-24 23-25 19-40 24-39 19-26 10-20 4-20 0-10-2-10-3-8-4-6-5-3-5-1-5 3-5 5-5 18-10 62-29 25-14 40-29 50-40 19-18 18-20 15-20 28-43 5-7 7-5z"/>
<path fill="#ffbc00" fill-rule="evenodd" d="M290-248l2-2 5 0 10 4 50 34 15 13 15 16 10 12 8 13 7 15 4 15 2 15 1 20-2 20-3 10-2 5-4 5-6 5-5 2-5 0-5 0-5-3-5-4-10-14-10-19-10-22-19-55-19-45-16-30-2-5-1-5zM347 157l5-3 5 2 5 6 1 5 1 5-1 10-2 10-4 10-25 42-35 53-13 15-22 21-20 15-25 15-56 29-24 10-20 4-10 0-10-1-10-3-5-2-5-3-5-5-2-5 2-5 4-5 17-10 49-23 25-13 45-32 51-42 22-20 18-20 12-15 22-34 10-11z"/>
<path fill="#ffa200" fill-rule="evenodd" d="M317-218l5-2 10 3 15 7 15 11 15 13 10 11 9 12 6 10 5 13 3 12 2 15 1 15-2 15-2 10-3 5-3 5-6 4-5 2-5 0-5-2-5-4-10-13-10-18-10-23-11-36-14-36-5-19 0-10zM340 177l2-2 5 0 2 2 1 5-1 10-7 16-20 36-29 48-17 20-22 20-14 10-18 11-65 34-20 8-10 3-10 1-15-1-10-3-5-3-4-5-1-5 4-5 7-5 18-10 41-19 15-8 30-21 30-23 45-37 18-17 19-20 23-32 5-6 3-2z"/>
<path fill="#ff8a00" fill-rule="evenodd" d="M330-198l2-3 5-1 5 1 10 5 10 6 10 8 10 10 10 13 6 11 4 10 3 10 1 10 0 15-1 10-3 11-5 7-5 4-5 2-5-1-5-3-10-12-10-18-10-25-15-50-3-10 0-5 1-5zM300 237l2-2 5-1 1 3-1 5-10 25-10 20-6 10-9 10-15 14-14 11-16 10-10 5-30 13-35 21-13 6-17 4-10 0-10-3-5-5-1-1 2-5 6-5 8-5 40-18 10-5 15-10 123-97z"/>
<path fill="#ff7100" fill-rule="evenodd" d="M342-183l5-2 5 1 15 9 15 14 10 15 3 8 3 10 1 10 0 10-2 10-2 5-3 5-5 4-5 1-5-2-5-4-10-14-5-9-6-16-9-35-1-15 1-5zM272 267l5-1 3 1 1 5-1 5-3 8-4 7-13 15-18 15-20 12-15 6-10 1-5 0-2-4 2-5 9-10 49-40 22-15zM131 367l16-4 1 4-7 5-9 3-5 1-5-4 9-5z"/>
<path fill="#ff5c00" fill-rule="evenodd" d="M354-163l3-2 5 1 10 5 10 11 5 9 3 11 0 10-3 13-5 6-5 1-5-3-5-5-7-12-3-10-5-20 0-10 2-5z"/>
<path fill="#ff4b00" fill-rule="evenodd" d="M366-138l1-1 5 2 2 4 1 5-1 5-2 2-5-7-1-5 0-5z"/>
</g></g>
<circle r="7.6" fill="#fff"/>
<circle r="72" fill="none" stroke="#000" stroke-width="1.7" stroke-dasharray="4.2 2.8" stroke-dashoffset="1"/>
<circle r="55.5" fill="none" stroke="#000" stroke-width="1.7" stroke-dasharray="4.2 2.8"/>
</g>
<g font-size="4.8" font-weight="bold" text-anchor="middle" fill="#001">
<rect x="105.5" y="32.8" width="8.9" height="4.5" fill="#fff"/>
<text x="110.0" y="36.5" textLength="7.8" lengthAdjust="spacingAndGlyphs">1156</text>
<rect x="123.1" y="39.1" width="8.9" height="4.5" fill="#fff"/>
<text x="127.6" y="42.9" textLength="7.8" lengthAdjust="spacingAndGlyphs">1584</text>
<rect x="143.6" y="43.4" width="8.9" height="4.5" fill="#fff"/>
<text x="148.0" y="47.1" textLength="7.8" lengthAdjust="spacingAndGlyphs">1691</text>
<rect x="132.0" y="51.1" width="8.9" height="4.5" fill="#fff"/>
<text x="136.4" y="54.9" textLength="7.8" lengthAdjust="spacingAndGlyphs">2227</text>
<rect x="154.0" y="54.8" width="8.9" height="4.5" fill="#fff"/>
<text x="158.4" y="58.5" textLength="7.8" lengthAdjust="spacingAndGlyphs">3441</text>
<rect x="167.2" y="54.8" width="8.9" height="4.5" fill="#fff"/>
<text x="171.6" y="58.5" textLength="7.8" lengthAdjust="spacingAndGlyphs">1905</text>
<rect x="176.6" y="65.3" width="8.9" height="4.5" fill="#fff"/>
<text x="181.0" y="69.1" textLength="7.8" lengthAdjust="spacingAndGlyphs">2334</text>
<rect x="123.1" y="66.3" width="8.9" height="4.5" fill="#fff"/>
<text x="127.6" y="70.1" textLength="7.8" lengthAdjust="spacingAndGlyphs">1477</text>
<rect x="183.2" y="89.2" width="8.9" height="4.5" fill="#fff"/>
<text x="187.6" y="92.9" textLength="7.8" lengthAdjust="spacingAndGlyphs">3298</text>
<rect x="183.2" y="103.8" width="8.9" height="4.5" fill="#fff"/>
<text x="187.6" y="107.5" textLength="7.8" lengthAdjust="spacingAndGlyphs">3083</text>
<rect x="177.0" y="153.2" width="8.9" height="4.5" fill="#fff"/>
<text x="181.4" y="156.9" textLength="7.8" lengthAdjust="spacingAndGlyphs">2762</text>
<rect x="151.6" y="179.3" width="8.9" height="4.5" fill="#fff"/>
<text x="156.0" y="183.1" textLength="7.8" lengthAdjust="spacingAndGlyphs">3190</text>
<rect x="121.5" y="191.2" width="8.9" height="4.5" fill="#fff"/>
<text x="126.0" y="194.9" textLength="7.8" lengthAdjust="spacingAndGlyphs">2655</text>
<rect x="131.1" y="170.3" width="11.8" height="4.5" fill="#fff"/>
<text x="137.0" y="174.1" textLength="10.7" lengthAdjust="spacingAndGlyphs">−22.08</text>
<rect x="118.7" y="176.8" width="11.8" height="4.5" fill="#fff"/>
<text x="124.6" y="180.5" textLength="10.7" lengthAdjust="spacingAndGlyphs">−236.3</text>
<rect x="91.1" y="174.8" width="11.8" height="4.5" fill="#fff"/>
<text x="97.0" y="178.5" textLength="10.7" lengthAdjust="spacingAndGlyphs">−343.3</text>
<rect x="78.1" y="170.8" width="9.9" height="4.5" fill="#fff"/>
<text x="83.0" y="174.5" textLength="8.8" lengthAdjust="spacingAndGlyphs">85.00</text>
<rect x="52.5" y="168.2" width="8.9" height="4.5" fill="#fff"/>
<text x="57.0" y="171.9" textLength="7.8" lengthAdjust="spacingAndGlyphs">1798</text>
<rect x="74.1" y="184.3" width="8.9" height="4.5" fill="#fff"/>
<text x="78.6" y="188.1" textLength="7.8" lengthAdjust="spacingAndGlyphs">2334</text>
<rect x="87.5" y="193.8" width="8.9" height="4.5" fill="#fff"/>
<text x="92.0" y="197.5" textLength="7.8" lengthAdjust="spacingAndGlyphs">2655</text>
<rect x="158.1" y="149.2" width="11.8" height="4.5" fill="#fff"/>
<text x="164.0" y="152.9" textLength="10.7" lengthAdjust="spacingAndGlyphs">−129.2</text>
<rect x="143.6" y="94.8" width="8.9" height="4.5" fill="#fff"/>
<text x="148.0" y="98.5" textLength="7.8" lengthAdjust="spacingAndGlyphs">1263</text>
<rect x="150.6" y="108.8" width="8.9" height="4.5" fill="#fff"/>
<text x="155.0" y="112.5" textLength="7.8" lengthAdjust="spacingAndGlyphs">1370</text>
<rect x="126.1" y="81.8" width="9.9" height="4.5" fill="#fff"/>
<text x="131.0" y="85.5" textLength="8.8" lengthAdjust="spacingAndGlyphs">727.5</text>
<rect x="104.1" y="82.8" width="9.9" height="4.5" fill="#fff"/>
<text x="109.0" y="86.5" textLength="8.8" lengthAdjust="spacingAndGlyphs">406.3</text>
<rect x="126.1" y="112.2" width="9.9" height="4.5" fill="#fff"/>
<text x="131.0" y="115.9" textLength="8.8" lengthAdjust="spacingAndGlyphs">620.4</text>
<rect x="148.6" y="119.8" width="8.9" height="4.5" fill="#fff"/>
<text x="153.0" y="123.5" textLength="7.8" lengthAdjust="spacingAndGlyphs">1691</text>
<rect x="142.6" y="134.8" width="8.9" height="4.5" fill="#fff"/>
<text x="147.0" y="138.5" textLength="7.8" lengthAdjust="spacingAndGlyphs">1584</text>
<rect x="134.6" y="149.2" width="8.9" height="4.5" fill="#fff"/>
<text x="139.0" y="152.9" textLength="7.8" lengthAdjust="spacingAndGlyphs">1584</text>
<rect x="119.5" y="157.8" width="8.9" height="4.5" fill="#fff"/>
<text x="124.0" y="161.5" textLength="7.8" lengthAdjust="spacingAndGlyphs">1477</text>
<rect x="98.5" y="155.8" width="8.9" height="4.5" fill="#fff"/>
<text x="103.0" y="159.5" textLength="7.8" lengthAdjust="spacingAndGlyphs">1370</text>
<rect x="87.5" y="153.8" width="8.9" height="4.5" fill="#fff"/>
<text x="92.0" y="157.5" textLength="7.8" lengthAdjust="spacingAndGlyphs">1263</text>
<rect x="110.1" y="128.3" width="9.9" height="4.5" fill="#fff"/>
<text x="115.0" y="132.1" textLength="8.8" lengthAdjust="spacingAndGlyphs">513.3</text>
<rect x="96.1" y="125.8" width="9.9" height="4.5" fill="#fff"/>
<text x="101.0" y="129.5" textLength="8.8" lengthAdjust="spacingAndGlyphs">192.1</text>
<rect x="85.1" y="93.3" width="9.9" height="4.5" fill="#fff"/>
<text x="90.0" y="97.1" textLength="8.8" lengthAdjust="spacingAndGlyphs">299.2</text>
<rect x="64.1" y="101.8" width="9.9" height="4.5" fill="#fff"/>
<text x="69.0" y="105.5" textLength="8.8" lengthAdjust="spacingAndGlyphs">620.4</text>
<rect x="64.1" y="115.8" width="9.9" height="4.5" fill="#fff"/>
<text x="69.0" y="119.5" textLength="8.8" lengthAdjust="spacingAndGlyphs">406.3</text>
<rect x="51.1" y="134.3" width="9.9" height="4.5" fill="#fff"/>
<text x="56.0" y="138.1" textLength="8.8" lengthAdjust="spacingAndGlyphs">85.00</text>
<rect x="25.6" y="98.2" width="8.9" height="4.5" fill="#fff"/>
<text x="30.0" y="101.9" textLength="7.8" lengthAdjust="spacingAndGlyphs">1798</text>
<rect x="47.1" y="56.8" width="8.9" height="4.5" fill="#fff"/>
<text x="51.6" y="60.5" textLength="7.8" lengthAdjust="spacingAndGlyphs">1370</text>
<rect x="92.5" y="54.4" width="8.9" height="4.5" fill="#fff"/>
<text x="97.0" y="58.1" textLength="7.8" lengthAdjust="spacingAndGlyphs">2120</text>
<rect x="74.5" y="77.8" width="9.9" height="4.5" fill="#fff"/>
<text x="79.4" y="81.5" textLength="8.8" lengthAdjust="spacingAndGlyphs">834.6</text>
</g>
<g transform="translate(388.0 117.6)">
<g clip-path="url(#clip)">
<circle r="90.6" fill="#0008ff"/>
<g transform="scale(.2)" stroke="#000" stroke-opacity=".8" stroke-width="1.3" stroke-linejoin="round">
<circle r="453.0" fill="#0019ff" stroke="none"/>
<circle r="453.0" fill="#002aff" stroke="none"/>
<circle r="453.0" fill="#003aff" stroke="none"/>
<path fill="#004bff" fill-rule="evenodd" d="M-458-458l915 0 0 915-915 0 0-915zM307-359l-5 2-1 4 1 5 6 10 17 20 17 22 30 34 5 4 5 2 5 1 3-3 0-5-2-10-6-10-25-37-10-11-20-17-10-7-10-4z"/>
<path fill="#005cff" fill-rule="evenodd" d="M-458-458l915 0 0 915-915 0 0-915zM287-374l-2 1-3 5 0 5 4 10 9 15 31 35 41 51 40 38 5 2 2-1 2-5-2-15-2-10-10-25-10-17-30-43-15-15-30-24-15-7-10-2-5 2z"/>
<path fill="#0070ff" fill-rule="evenodd" d="M-458-458l915 0 0 915-915 0 0-915zM272-384l-4 6 0 5 1 5 7 15 11 15 44 50 31 40 21 25 29 38 10 9 5 2 5 0 3-4 2-5 0-10-5-24-5-16-10-22-15-28-32-45-13-15-10-9-20-17-15-10-10-5-15-4-10 1-5 3z"/>
<path fill="#0087ff" fill-rule="evenodd" d="M-458-458l915 0 0 915-915 0 0-915zM237 160l-10 8-10 11-26 38-2 5 3 1 15-11 15-12 10-11 5-7 6-15-1-6-5-1zM262-396l-4 3-3 5-1 5 1 5 4 10 9 15 16 20 32 35 20 25 43 55 28 41 10 12 10 10 5 2 5 2 5-2 4-5 2-5 1-5 1-10-3-16-10-34-10-23-15-27-10-15-25-34-13-16-12-12-22-18-18-13-14-7-11-3-15-2-10 2z"/>
<path fill="#009eff" fill-rule="evenodd" d="M-458-458l915 0 0 274-10-34-5-15-5-11-10-19-15-24-10-14-28-37-13-15-19-17-20-16-15-9-15-7-20-5-15 0-5 1-5 3-4 5-1 5 0 5 3 10 8 15 25 30 36 40 20 25 42 55 31 47 15 21 10 10 5 3 5 1 5 0 5-5 5-14 0 607-915 0 0-915zM247 141l-10 9-15 15-28 37-28 30-4 5-2 5 2 4 5 0 5-1 8-3 8-5 19-15 25-25 11-15 9-20 3-15-1-5-2-2-5 1z"/>
<path fill="#00b5ff" fill-rule="evenodd" d="M-458-458l915 0 0 251-7-21-9-20-8-15-20-30-22-30-19-24-15-16-15-13-20-16-15-9-15-7-20-6-15-2-10 0-5 1-5 3-4 4-2 5-1 5 1 5 3 10 8 15 13 15 57 64 21 26 41 55 48 75 10 11 10 6 5 2 5 0 5-3 0 574-915 0 0-915zM-123 266l-4 1 4 2 2-2-2-1zM257 121l-35 38-34 43-40 40-3 5-2 5 4 4 5 1 10-2 10-3 10-5 14-10 11-10 20-19 10-11 10-14 5-9 5-12 6-15 3-15 0-10-4-5-5 4z"/>
<path fill="#00caff" fill-rule="evenodd" d="M-458-458l915 0 0 235-8-20-8-15-22-35-17-23-21-27-14-16-15-14-24-20-16-11-15-8-20-7-20-5-15-1-10 2-8 5-3 5-2 5 1 10 4 10 5 10 7 10 8 10 63 69 25 31 40 55 19 30 21 36 10 15 10 11 5 4 10 4 5 1 5 0 0 559-915 0 0-915zM-73-61l-4 3-1 5-1 5 2 10 2 10 2 3 10-12 4-6 2-5-1-5-5-6-5-3-5 1zM277 68l-5 7-9 22-9 15-66 85-16 16-40 36-5 5-10 6-50 14-25 6-35 3-20 0-50-2-15-3-10-3-10-5-30-18-10-5-10-3-5-1-5 3 2 6 7 10 11 10 8 5 10 5 16 5 16 3 39 12 31 2 20 0 15-1 33-6 33-10 14-5 25-11 30-7 15-5 20-11 20-16 30-30 15-21 10-19 6-15 4-12 10-36 3-17-1-10-2-5-5 1z"/>
<path fill="#00e0ff" fill-rule="evenodd" d="M-458-458l915 0 0 221-8-16-12-20-25-37-26-33-14-16-14-14-21-19-15-11-15-9-20-9-25-8-15-3-15 0-10 1-5 2-7 6-2 5 0 5 2 10 4 10 12 20 12 15 29 31 35 39 30 37 39 53 18 30 23 41 10 14 10 11 5 4 10 5 10 1 0 549-915 0 0-915zM-83-85l-5 3-5 5-5 9-4 10-10 40 0 10 2 5 7 5 5 1 40 3 20 0 11-4 7-5 3-5 2-5 0-5-4-30-3-10-3-5-7-5-26-15-10-4-5-1-5 1-5 2zM277 55l-5 6-3 6-15 35-9 15-57 75-21 21-35 29-10 7-15 6-45 14-35 6-40 3-50-3-20-5-10-4-40-23-35-18-21-13-4-2-5 0-2 2 0 5 7 10 14 15 21 20 19 15 9 5 12 5 50 15 20 5 10 1 30 1 20 0 17-2 26-5 35-10 42-16 25-9 22-10 13-9 15-12 20-20 15-16 12-18 14-25 9-23 12-37 3-20 0-10-2-5-3-6-5-3-5 2z"/>
<path fill="#00ecf7" fill-rule="evenodd" d="M-458-458l915 0 0 210-11-20-28-40-35-45-11-12-15-15-20-17-15-12-16-9-24-10-20-7-20-5-20 0-12 2-10 5-4 5-1 5 1 10 4 10 16 25 16 20 30 31 35 39 35 43 23 32 14 20 18 30 20 37 15 22 10 10 5 4 10 5 10 2 0 540-915 0 0-915zM-83-98l-10 5-6 5-8 10-6 12-5 15-10 43-1 10 1 5 5 5 10 3 30 0 40 5 15-1 6-2 9-5 7-5 4-5 4-6 3-9 0-10-2-35-2-10-3-5-6-5-25-8-25-12-15-2-10 2zM277 47l-5 5-5 7-16 38-11 20-17 25-39 50-22 21-35 27-15 8-15 5-45 13-20 4-20 3-30 1-45-4-20-5-15-6-34-22-31-18-25-17-10-6-10-3-5 1-3 3-1 5 1 5 4 10 13 15 16 15 30 25 15 10 10 5 28 10 36 10 16 3 20 2 25 1 25-1 25-4 25-6 17-5 68-26 10-4 15-9 15-10 15-13 20-20 15-18 15-23 15-30 10-27 5-16 3-14 2-20-2-10-2-5-6-6-5-1-5 2z"/>
<path fill="#00ede8" fill-rule="evenodd" d="M-458-458l915 0 0 199-9-14-32-45-36-45-13-14-15-14-20-16-15-11-20-10-30-12-20-5-25-3-20 1-12 4-6 5-3 5 0 5 2 10 5 10 10 15 19 25 13 15 32 32 34 38 21 25 30 40 30 45 30 55 14 20 6 7 10 9 10 5 10 2 0 532-915 0 0-915zM-188 45l-5 3-2 4-1 5 2 5 5 5 9 5 17 7 16 13 9 5 7 0 3-1 3-4 2-5-4-10-21-28-5-4-5-2-10 0-20 2zM-83-109l-10 4-10 7-10 11-9 14-8 20-8 33-12 27-1 10 3 9 5 5 5 1 35-7 15-1 15 1 25 5 15 1 15-2 15-7 10-9 5-6 4-10 2-10 1-20-1-25-3-15-5-10-4-5-9-6-25-6-20-9-15-2-10 1-10 1zM277 40l-8 7-6 10-18 45-11 20-14 20-34 45-19 19-30 23-20 12-20 8-30 9-20 5-35 6-30 1-40-3-20-4-10-4-10-5-60-38-30-23-11-6-14-3-5 0-5 3-3 5-1 5 1 5 4 10 11 15 15 15 18 15 19 15 15 10 16 8 18 7 34 10 20 5 23 3 25 2 20-1 25-3 30-6 19-5 29-10 37-15 15-7 15-8 20-15 15-13 20-21 15-18 15-25 15-30 12-33 6-25 1-10 0-10-4-14-5-7-5-3-5 0-5 2z"/>
<path fill="#00eed9" fill-rule="evenodd" d="M-458-458l915 0 0 190-40-56-36-44-14-15-15-14-20-16-15-10-25-12-30-12-20-5-30-4-20 0-16 3-9 5-3 5 0 5 3 10 8 15 36 45 13 15 33 32 30 33 25 30 27 35 14 20 19 30 30 55 16 25 9 10 10 9 10 5 10 2 0 524-915 0 0-915zM-53-123l-30 5-14 5-15 10-6 5-8 10-6 10-7 15-12 35-22 34-5 6-5 3-21 12-9 9-4 6-2 5 0 5 2 10 6 10 8 7 10 6 25 10 25 14 10 2 5 0 10-2 5-2 6-5 2-5 1-5-2-10-11-25-1-5 2-5 4-5 9-5 15-3 15 2 43 11 9 5 2 5 0 5 3 5 8 4 5 1 5-1 4-4 0-5-8-10 2-5 12-10 7-10 4-10 4-20 2-25 1-20-1-15-3-15-4-10-5-8-5-6-10-7-35-13-10-2-10 1zM282 32l-5 1-5 4-5 6-5 8-5 11-13 35-10 20-21 30-31 40-20 20-25 18-20 13-20 8-45 13-35 6-35 2-35-2-25-6-10-4-10-5-60-40-30-24-15-8-5-1-10-1-5 0-5 3-3 3-3 5-1 5 2 10 5 10 11 15 15 15 24 20 20 15 17 10 18 8 20 7 34 10 21 4 25 3 25 1 20-1 30-5 25-6 20-6 25-9 35-15 15-7 15-9 19-15 16-15 20-21 15-19 15-25 14-30 11-30 6-25 1-20-3-15-4-8-5-5-5-2-5 0z"/>
<path fill="#00eec5" fill-rule="evenodd" d="M-458-458l594 0 0 5 5 10 20 25 53 60 38 38 25 27 26 30 29 37 16 23 16 25 12 20 23 45 10 15 11 15 7 8 10 8 10 5 10 3 0 516-915 0 0-915zM-308 5l-5 9-2 8 1 15 1 5 5 11 5 6 5 1 6-3 5-10 2-10-1-10-1-5-2-5-9-11-5-3-5 2zM-33-138l-15 2-50 13-22 10-8 5-5 6-5 7-10 20-10 17-13 30-9 15-8 10-5 4-20 16-10 9-5 6-2 5-1 5-1 10 4 13 5 10 5 7 10 9 15 9 45 19 10 2 15 1 25-5 10-4 8-6 12-14 5-5 5-2 10-1 35 4 20 0 10-3 6-4 4-5 4-10 7-30-1-40 3-50-1-20-3-15-4-11-6-14-7-10-5-5-9-5-13-4-10-1-15 0zM282 26l-5 1-5 3-6 7-9 18-14 37-9 20-17 25-25 35-10 12-20 20-30 21-15 10-25 10-40 11-20 4-20 3-30 2-20-2-20-2-20-5-20-10-51-34-13-10-26-22-15-9-5-1-10-1-10 1-5 2-5 5-2 5-1 5 1 10 7 15 10 13 15 16 18 16 20 15 23 15 14 7 20 8 33 10 22 5 25 4 30 2 20-1 25-3 25-5 26-7 27-10 32-14 20-9 15-9 20-16 19-17 21-23 13-17 17-30 12-25 12-30 5-25 2-20-2-10-3-10-6-10-5-4-5-2-5 0zM241-458l216 0 0 182-37-52-25-30-23-26-25-23-20-16-20-11-40-17-26-7zM-87 52l4-1 5 1 8 5 3 5 0 5-4 5-2 1-5 1-5-1-5-4-4-7 0-5 4-5 1 0z"/>
<path fill="#00efac" fill-rule="evenodd" d="M-458-458l549 0 16 8 25 17 15 12 30 29 36 39 50 50 34 39 25 31 18 25 19 30 15 25 20 40 13 20 10 15 10 11 10 8 10 5 10 3 0 508-915 0 0-915zM-308-18l-5 7-5 15-3 18 1 15 4 15 3 7 5 7 5 5 5 3 5 0 5-3 4-4 6-11 3-9 1-10 0-15-2-5-12-19-10-14-5-4-5 2zM77-198l-8 5-3 5-8 15-4 5-7 5-10 4-10 3-10 1-25-2-15 1-55 17-40 9-20 2-5 2-4 3-5 10-4 15-4 10-15 25-8 25-7 15-12 15-31 26-5 6-4 8-1 5 1 10 2 10 4 10 8 15 15 18 10 8 10 7 20 9 25 7 10 1 15 0 25-3 10-2 5-2 10-6 15-12 5-3 10-4 15-1 35 1 15-3 10-5 11-10 16-20 3-5 1-5-2-10-9-19-4-11-2-10 0-10 10-95 3-15 5-15 3-5 5-5 5-2 10-3 10 0 25-1 10 1 10 12 5 4 5 0 2-1 3-5-1-5-4-5-10-3-5-3-11-24-8-10-6-5-10-5-10-2-10 0-5 2zM277 21l-5 2-5 5-5 7-5 12-16 45-13 25-16 23-27 37-18 19-20 16-25 17-10 5-15 6-45 13-25 5-20 3-20 1-15-1-20-1-20-4-20-7-15-9-47-33-38-33-15-9-10-3-10 0-10 2-5 3-5 5-3 5-1 5 0 5 2 10 8 15 11 15 14 15 24 21 25 18 19 11 16 7 25 9 30 9 20 4 30 4 25 1 25-2 30-5 20-4 25-8 25-9 35-16 20-11 15-10 22-19 23-24 13-16 14-20 16-30 14-30 7-25 5-25-1-15-1-10-2-6-5-9-5-6-5-3-5-2-5-1-5 1zM264-458l193 0 0 175-32-45-15-20-28-33-22-22-23-19-15-10-30-15-28-11z"/>
<path fill="#00f093" fill-rule="evenodd" d="M-458-458l486 0 19 3 35 8 15 6 15 7 15 8 15 10 20 18 20 19 30 31 31 30 19 20 35 40 30 38 15 22 21 35 29 56 12 19 13 18 10 10 10 9 10 5 10 2 0 501-915 0 0-915zM62-213l-14 5-6 4-4 6-6 10-5 5-5 2-10 1-20-4-10-1-5 2-5 3-12 12-7 5-11 6-15 6-15 3-25 3-30-1-10 1-9 2-9 5-12 13-18 12-4 5-1 5 0 5 2 5 8 15 1 10 0 15-2 10-5 15-8 10-10 10-8 6-20 13-5 1-5-2-15-11-5-6-10-18-8-8-7-3-5 2-5 5-5 11-5 17-3 23 1 15 4 15 4 10 9 14 10 9 5 1 5-1 5-3 5-4 10-15 5-4 5 0 5 1 5 5 25 36 10 12 10 9 15 11 15 8 10 2 15 1 20-1 40-7 10-4 5-3 20-14 10-5 5-1 20-2 30 2 10-2 13-5 34-20 7-5 4-5 3-5 1-5-1-10-6-15-13-20-5-10-3-10 0-10 5-30 4-15 6-10 11-15 2-5 1-5-2-15 1-5 2-5 6-6 5-1 5 0 6 2 14 9 5 3 10 2 15 0 10-2 5-3 5-4 3-5 1-5 0-5-3-10-6-10-20-19-15-21-10-11-6-4-9-4-15-3-15-1-15 3zM272 16l-5 4-5 7-5 11-17 49-9 20-14 22-31 43-18 20-18 15-30 20-13 7-10 4-25 7-25 7-20 4-20 2-20 2-15-1-25-3-15-3-15-5-19-11-48-35-33-32-15-10-15-6-10 0-12 3-8 4-5 5-3 6-1 5 0 10 3 10 7 15 14 19 16 16 24 20 21 15 19 11 20 9 25 9 30 8 20 5 30 3 25 2 25-2 30-4 25-6 25-8 25-10 35-16 20-12 15-11 25-23 23-25 15-20 15-25 13-25 12-30 7-25 2-15 0-10-1-10-2-10-4-10-5-7-5-5-10-5-5-1-10 2zM280-458l177 0 0 167-37-52-33-39-20-22-20-17-20-15-15-8-32-14z"/>
<path fill="#00f17c" fill-rule="evenodd" d="M-458-458l340 0 15 3 50 4 55 1 40 4 20 4 25 7 15 5 20 9 15 10 15 11 20 18 33 34 37 35 19 20 31 36 20 24 19 25 31 51 27 54 23 35 10 11 10 10 10 6 15 5 0 493-915 0 0-915zM47-228l-20 4-25 11-20 5-14 5-8 5-6 5-19 20-8 5-12 5-18 4-15 2-20-1-35-4-5 1-5 2-10 9-20 24-5 8-4 10-2 10 1 8 8 22 1 5 1 10-2 10-3 10-6 10-4 5-6 5-9 5-5 2-5 0-5-3-15-13-10-15-5-5-10-5-5 0-5 2-5 4-5 7-5 12-5 19-2 25 3 25 3 10 4 10 6 10 6 8 10 9 5 3 5 1 5-1 5-3 15-14 5 0 5 1 10 8 5 5 10 14 19 29-4 4-10 1-20 10-5 3-5 6-3 6-2 10 3 15 6 15 13 20 14 15 24 21 18 14 24 15 18 9 25 9 30 9 25 6 35 5 25 2 25-2 35-5 25-6 35-12 35-16 25-14 20-14 24-21 21-23 18-22 21-35 12-25 10-25 7-25 2-20-1-15-3-15-6-12-5-6-5-4-10-6-10-1-5 0-5 2-5 7-2 5-23 65-9 20-11 18-25 35-17 22-10 10-13 11-21 14-16 10-24 10-44 12-30 6-30 2-30-1-25-5-15-6-15-8-38-30-17-15-7-10-4-10 1-5 5-3 75-22 11-5 24-16 10-4 10-2 10 0 30 2 15-2 50-23 10-7 5-5 4-8 1-5 0-10-2-10-4-10-5-10-13-20-4-10-1-10 1-10 3-15 4-10 7-10 14-11 35-18 30-9 10-3 10-7 6-7 3-5 0-10-3-10-5-10-7-10-24-25-15-23-7-7-8-5-10-5-20-6-20-1-25 2zM252-89l-1 6 1 5 3 5 2 2 5-1 1-6-1-6-5-6-5 1zM295-458l162 0 0 159-23-34-12-15-35-42-20-22-20-17-15-11-10-5-27-13z"/>
<path fill="#00f267" fill-rule="evenodd" d="M-458-458l270 0-5 10 0 5 7 5 8 2 10 0 25-3 60-4 70 1 15 0 30 3 30 5 20 5 20 6 20 9 15 10 30 25 70 67 18 19 37 43 35 44 32 53 24 50 16 25 10 15 13 15 10 8 10 7 15 5 0 485-915 0 0-915zM22-253l-10 2-6 3-21 20-33 20-30 22-20 11-15 4-20 2-10-1-20-5-10-1-10 3-5 3-10 10-21 27-7 10-4 10-3 10-1 10 1 30-1 15-4 13-5 7-5 3-5-1-10-11-10-6-10-9-5-2-10-4-5 1-5 2-5 4-5 6-5 9-3 8-6 20-2 25 1 21 3 14 3 10 9 18 5 7 10 12 10 8 5 2 5 1 10-3 15-9 5 1 9 8 7 10 2 10-1 5-3 5-9 6-10 10-4 9-1 15 3 15 4 10 6 10 12 18 16 17 23 20 21 15 25 15 20 9 35 12 30 8 30 5 35 4 25-1 35-5 25-5 25-8 25-10 35-17 20-12 20-15 22-20 23-25 15-20 16-25 16-30 12-30 7-25 2-20 0-15-2-10-6-15-5-8-10-10-10-6-20-6-5 5-20 63-8 22-7 15-10 18-35 50-15 17-12 10-13 10-32 20-13 5-15 5-36 10-34 6-30 2-30-2-24-6-16-7-18-13-28-25-8-10-2-5 0-5 3-5 7-5 21-10 40-17 30-18 10-3 10-1 10 0 25 2 15-2 30-13 25-9 8-4 7-5 5-6 6-9 1-5 2-10-1-5-2-10-21-45-3-10-1-15 4-15 5-8 5-4 10-4 15-1 5-2 5-3 15-13 5-3 25-9 16-8 9-6 3-4 2-5 0-5 0-10-4-10-8-15-10-15-23-23-15-22-9-10-17-10-25-10-19-5-25-3-20-6-10-1zM247-99l-2 1-2 5 0 5 1 10 5 15 3 4 5 4 5-2 5-7 2-9-1-10-2-5-3-5-5-5-6-2-5 1zM311-458l146 0 0 149-16-24-11-15-43-51-15-16-15-14-15-12-15-9-16-8z"/>
<path fill="#00f451" fill-rule="evenodd" d="M-458-458l235 0-20 9-10 7-35 29-10 10-3 5-2 5 0 5 3 5 2 2 5 2 5 1 15-1 13-4 10-5 27-18 10-5 15-5 50-9 50-8 25-2 65-1 50 5 25 4 20 6 20 7 15 7 14 9 16 13 20 17 63 60 19 20 38 45 32 40 33 55 15 35 8 15 17 28 9 12 13 15 13 11 10 7 15 5 0 477-915 0 0-915zM7-263l-18 5-7 5-13 15-11 10-36 26-20 12-20 6-15 2-10-1-15-5-10-1-10 1-10 6-5 4-10 12-25 33-5 8-7 17-8 35-5 7-10 6-5 1-15-5-10-3-5 0-10 4-5 3-6 7-9 15-5 16-3 19-2 25 2 20 3 15 5 15 10 17 15 18 10 9 15 8 12 3 3 4 0 6-4 15-1 15 1 15 3 10 6 15 9 15 13 15 15 15 23 20 20 14 20 11 25 11 35 12 30 9 40 7 30 2 25-1 35-5 25-6 25-9 25-10 35-17 15-9 20-16 25-22 20-22 15-20 18-29 17-30 12-30 8-25 2-20-1-15-2-10-3-10-6-13-10-12-28-20-6-10-3-10 0-5 7-25 1-15-1-5-4-10-6-8-5-4-10-4-9 1-6 3-5-3-14-30-16-26-28-29-17-20-11-10-8-5-20-10-26-10-55-14-10-2-15 1zM329-458l128 0 0 138-8-13-11-15-61-72-25-23-10-8-13-7zM168-63l14-4 10 0 5 1 15 5 15 10 10 10 8 13 6 15 2 15-1 15-5 22-10 32-10 25-10 18-30 44-10 14-9 10-11 10-13 10-22 15-19 10-16 6-32 9-38 8-20 2-20 1-20-2-15-3-15-4-10-4-12-8-11-10-10-10-8-10-3-5-1-5 2-5 3-5 14-10 11-7 30-16 20-11 10-5 10-2 10-1 30 3 15-2 30-12 25-8 10-4 10-6 11-9 7-10 2-5 2-5 0-10-2-10-11-30-5-20-3-15 0-5 2-5 2-3 5-3 15-2 10-5 9-7 14-15 8-5z"/>
<path fill="#00f63e" fill-rule="evenodd" d="M-458-458l199 0-29 24-32 26-11 10-9 10-3 6-3 9 0 10 3 4 4 1 11 2 25-2 24-5 25-10 41-24 20-8 40-11 55-10 25-2 65-2 45 4 30 5 20 6 15 5 15 7 15 9 40 33 57 53 19 20 44 53 20 24 9 13 31 52 22 48 21 35 7 11 15 16 15 13 10 6 15 7 0 467-915 0 0-915zM-3-268l-25 5-13 5-8 5-6 5-4 5-6 10-8 10-13 10-17 9-10 3-10 1-10-1-10-5-5-1-10 1-15 5-15 10-15 15-32 43-7 15-11 29-7 11-3 2-5 3-25-3-10 2-10 6-10 11-7 14-7 20-3 20-2 25 2 20 3 15 4 13 5 11 10 17 10 13 23 21 5 5 4 10 4 35 3 10 4 10 5 10 10 15 12 14 11 11 24 20 20 15 20 11 25 11 40 14 30 8 45 8 30 3 25-2 35-6 20-5 35-12 25-11 30-16 15-9 20-17 24-22 21-24 16-21 19-32 15-28 12-30 7-25 2-20-2-15-2-10-4-10-5-10-8-11-26-24-5-10-2-5 0-10 3-20 0-10-2-10-3-10-5-8-5-5-5-4-20-12-5-4-23-37-12-15-49-45-15-10-21-10-26-10-49-14-20-2-20 1zM348-458l109 0 0 123-10-13-65-79-20-20-14-11zM171-43l6-3 5-1 5-1 10 2 15 6 10 7 10 11 10 17 4 12 0 10-1 10-3 16-10 32-10 23-5 9-17 25-19 30-9 11-8 9-18 15-22 15-17 10-11 5-16 5-37 10-24 5-22 3-15 0-15 0-20-3-15-4-10-4-12-7-6-5-9-10-6-10-2-5-1-5 2-5 2-5 10-10 13-10 9-5 30-17 15-6 15-2 30 3 10-1 10-2 25-8 25-7 14-5 11-6 10-6 9-8 8-10 3-8 1-7-2-15-10-35-1-15 2-9 3-6 5-5 17-13 19-17z"/>
<path fill="#00f72d" fill-rule="evenodd" d="M-458-458l173 0-8 6-10 5-25 8-10 5-23 16-9 10-3 5-4 10-4 30-3 15-5 10-14 24-4 11-1 14 0 1 5 1 5-1 5-4 5-6 11-15 4-5 6-5 13-5 36-10 30-10 30-14 45-26 20-9 25-8 20-6 45-8 25-3 50-3 30 1 50 6 30 7 25 10 20 11 35 27 25 21 36 34 18 20 24 30 32 37 20 26 30 51 21 46 22 40 7 10 10 11 20 19 15 12 15 8 0 455-915 0 0-915zM-3-273l-25 3-25 7-13 5-27 13-37 12-18 9-25 15-10 6-10 8-15 17-33 45-5 10-11 25-6 9-5 3-5 1-10 1-10-1-10 3-10 5-10 11-5 7-5 11-6 20-5 25-1 25 1 20 3 15 4 15 7 15 7 12 10 14 23 24 6 10 3 10 6 30 3 10 8 15 10 15 8 10 20 20 24 20 19 13 25 14 25 10 40 13 30 8 50 9 25 1 25-2 35-6 25-8 30-11 25-11 25-13 20-14 20-17 22-21 23-26 15-22 20-32 15-30 10-25 8-25 1-20-2-20-5-15-4-10-13-18-16-17-6-10-2-5-2-10 0-25-1-10-3-10-4-10-6-8-5-6-15-11-10-9-23-36-12-13-50-44-21-13-22-10-27-10-45-13-20-3-20 1zM367-458l90 0 0 107-25-27-50-63-15-17zM177-23l10-4 5-1 10 3 10 7 15 13 5 5 4 7 4 10 0 10-3 18-5 17-10 26-5 10-23 34-18 30-8 10-10 10-11 10-22 15-15 10-11 5-14 5-37 10-31 7-30 4-15 0-15-2-20-4-10-4-11-6-6-5-5-5-6-10-1-10 1-5 6-10 9-10 13-10 15-9 15-7 15-5 10-1 30 2 10 0 10-2 25-7 30-6 15-6 15-7 12-7 12-10 8-10 2-10-1-10-5-25-3-15 1-10 2-10 2-6 7-9 23-20z"/>
<path fill="#00f91c" fill-rule="evenodd" d="M-458-458l60 0-10 25-3 10 0 15 3 25-1 10-2 5-16 30-17 40-6 10-8 7 0-177zM386-458l71 0 0 91-20-21-30-40-21-30zM-59-418l36-2 25 1 45 6 35 8 20 8 20 11 30 21 20 16 34 31 20 20 12 15 23 30 42 50 14 20 25 43 18 42 29 50 7 10 9 10 52 49 0 304-21 2-29 9-13 6-6 5-3 5-2 5-1 5 1 5 3 5 4 5 7 5 18 10 5 5 1 5-1 5-6 10-23 25-4 7-2 8-843 0 0-128 25-2 20 3 10 1 5-2 2-2 1-5-1-5-3-5-7-5-7-2-20-1-25-9 0-483 35-40 30-29 39-46 6-5 10-7 57-28 68-38 25-11 30-10 30-7 40-7 29-2zM2-278l-25 2-20 4-25 8-30 12-28 9-12 5-15 9-30 18-10 8-15 15-37 50-19 35-4 4-5 3-5 2-15 1-10 3-5 2-10 7-10 13-5 9-4 11-6 20-5 25-1 25 2 20 3 20 4 15 5 10 8 15 9 14 26 31 5 10 8 35 10 20 9 15 8 10 20 20 24 20 20 14 20 11 25 11 41 14 34 10 50 10 15 2 15 0 30-3 30-6 25-7 35-13 25-12 25-14 20-14 20-18 20-20 25-29 15-22 20-34 17-35 10-25 5-20 2-20-4-20-7-20-9-15-20-25-6-10-4-15-3-30-3-10-4-10-9-14-27-26-19-30-12-15-11-10-43-35-13-8-25-12-25-10-50-16-20-3-20-1zM201 12l11-1 10 2 5 4 3 5 2 5 0 10-5 20-5 15-10 21-22 29-13 27-8 13-13 15-18 15-29 20-12 6-10 4-30 8-24 7-31 6-25 2-15-1-15-2-15-5-10-5-6-5-4-5-3-5-1-5-1-5 2-5 5-10 7-10 11-10 20-12 10-3 10-3 10-1 25 3 15-1 30-6 40-7 15-5 15-7 35-21 7-7 2-5 1-5-1-10-9-30 0-10 3-10 2-4 5-6 10-6 10-3 14-1z"/>
<path fill="#01fb12" fill-rule="evenodd" d="M407-458l50 0 0 71-10-13-40-58zM-58-413l35-2 25 1 40 5 35 8 20 8 20 10 35 24 26 21 27 25 19 20 32 45 31 36 14 19 36 58 18 42 25 45 6 10 11 13 31 32 11 15 4 10 2 10-1 20 2 15 11 35 0 51-5 24-3 25 2 10 6 15 0 21-13 19-9 10-25 20-28 18-14 12-25 30-6 10-10 20-5 5-5 2-5 1-20 1-15 6-39 20-14 10-17 15-448 0-6-10-11-12-10-6-17-7-7-5-3-5-3-10-6-15-21-35-48-60-10-11-15-14-8-10-14-25-16-25-9-30-13-25 0-303 15-20 17-27 11-15 22-24 21-26 21-25 10-10 13-10 20-13 60-35 45-24 25-10 20-7 25-6 30-6 20-3 25-1zM-43-278l-25 7-33 13-32 10-19 10-36 22-15 12-9 11-21 30-16 20-19 30-5 5-5 2-20 5-10 5-10 7-5 5-8 11-7 15-5 16-5 19-3 20-1 15 0 15 1 20 5 25 5 15 8 15 9 15 27 35 4 10 8 30 10 20 10 15 12 15 16 15 17 15 27 19 25 14 25 11 40 13 30 9 60 13 20 2 25-1 30-5 25-7 35-13 25-10 25-13 20-13 20-16 20-19 20-21 22-28 22-35 16-30 15-30 9-25 4-20-1-20-3-15-6-15-11-20-23-35-4-11-6-34-8-20-11-15-22-25-21-35-15-15-40-30-15-10-37-18-29-12-46-15-20-3-15-1-20 0-15 1-15 3zM-458-398l0-4 5 2 5 4 4 8 1 5-2 5-3 6-5 6-5 3 0-35zM182 42l5-1 10 1 10 3 2 2 2 5 0 5-4 12-5 7-5 2-5 0-5-3-5-4-5-6-3-8 0-5 3-7 5-3zM145 132l12-4 5 0 5 2 2 7 0 5-2 6-5 9-10 12-14 13-26 20-17 10-13 4-20 5-31 11-16 5-18 3-15 2-20 0-22-5-11-5-6-5-4-5-2-5-1-5 3-10 9-15 5-5 9-8 15-8 10-3 10-1 25 3 15 0 35-6 35-2 10-3 15-5 33-17zM-458 372l10 1 15 3 20 9 11 7 4 5 2 5 8 30 10 20 2 5-82 0 0-85z"/>
<path fill="#04fc0d" fill-rule="evenodd" d="M-61-408l38-2 25 1 40 6 35 8 20 8 20 11 35 23 25 20 22 20 18 20 11 15 22 35 32 39 15 21 34 55 20 50 14 25 18 25 36 40 7 10 4 10 2 10 2 35 9 45 1 15 0 15-10 60-4 20-6 15-15 30-10 15-9 10-81 75-7 5-20 11-49 29-36 26-15 9-384 0-16-11-45-34-10-9-5-6-20-31-36-49-24-38-10-12-15-15-10-14-19-36-10-30-6-13-15-27-15-20 0-150 1-15-1-13 0-43 6-19 6-15 26-45 11-15 21-25 22-30 22-25 10-10 16-13 15-11 55-34 25-14 20-10 25-10 25-9 25-6 25-4 20-3 22-1zM-43-284l-25 7-35 13-30 9-24 12-34 20-12 9-10 11-25 35-17 20-18 23-9 7-26 13-10 7-5 5-10 15-5 10-7 20-6 25-4 20-1 20 1 20 1 20 4 20 5 15 15 25 21 30 7 10 4 10 7 25 10 20 10 15 12 15 15 15 25 20 21 15 27 15 24 10 44 15 30 9 60 14 25 3 20-1 30-6 25-7 40-15 25-11 20-11 20-13 20-16 23-21 22-25 19-25 22-35 20-35 12-25 10-25 4-20 0-20-2-15-5-15-8-15-28-50-4-10-8-30-6-15-10-15-21-28-18-32-7-9-6-6-21-15-31-20-17-10-40-19-25-9-40-14-25-5-20-1-20-1-25 3zM-34 172l6-1 10 1 25 5 10 0 25-4 15 1 12 3 8 5 3 5 0 5-5 5-23 12-20 13-22 10-18 5-10 1-15 1-13-2-15-5-8-5-4-5-2-5 0-5 2-5 5-10 10-12 10-8 14-5z"/>
<path fill="#06fd08" fill-rule="evenodd" d="M-66-403l43-2 25 1 35 5 35 8 25 10 20 11 35 22 24 20 21 20 17 20 10 15 13 28 10 17 40 51 25 37 10 17 5 11 5 15 8 34 4 10 3 5 9 10 26 25 26 30 9 13 4 12 4 35 6 40 2 30-1 20-6 35-6 25-10 25-14 25-9 13-11 12-37 35-37 30-110 72-20 10-20 8-66 0-14-5-15-4-20-3-15-1-10 1-10 1-30 11-143 0-17-8-30-18-30-21-10-8-9-10-50-70-30-55-30-35-9-15-10-20-16-45-7-15-8-15-12-15-7-10-4-10-3-10-3-15 0-10 2-30 1-35 3-35-1-40 1-10 2-10 7-20 4-10 27-50 27-35 21-30 29-32 26-23 19-13 40-26 35-19 35-15 35-11 40-8 37-3zM-43-289l-30 8-65 22-43 21-17 10-10 8-7 7-8 10-20 29-39 41-13 10-18 12-10 10-10 14-9 19-6 18-7 27-3 20-2 20 1 25 1 25 3 15 6 15 14 25 24 35 5 10 9 30 12 20 10 15 14 15 17 15 19 15 22 15 25 15 24 10 28 10 43 13 75 20 20 3 20-1 20-4 30-8 50-20 25-12 20-10 20-14 20-17 20-19 20-22 22-29 23-37 24-43 12-25 8-20 4-20 0-20-1-10-4-15-6-15-9-20-10-20-13-21-5-11-8-23-10-20-22-35-15-35-5-8-7-7-13-9-25-11-47-25-45-20-53-19-20-5-25-3-30-1-20 2zM-35 182l7 0 10 2 14 8 13 10 2 5 0 5-3 5-4 5-6 5-6 3-5 2-10 2-10 0-10-1-5-1-10-5-5-5-2-5 1-5 4-10 7-10 5-4 5-3 8-3z"/>
<path fill="#09fe03" fill-rule="evenodd" d="M-76-398l43-2 20 0 20 1 20 3 25 5 25 7 15 6 20 10 30 19 20 14 19 17 19 20 11 15 5 10 4 10 7 25 0 5-2 5-3 2-5 1-10 0-10-2-15-5-75-33-55-20-25-6-40-4-15 0-15 2-30 7-65 20-50 23-16 10-17 15-31 40-21 20-20 21-20 17-10 11-10 13-5 9-6 14-7 20-7 30-4 20-2 25 0 25 1 30 2 15 4 10 6 10 30 45 5 10 9 30 12 20 16 20 10 10 18 15 27 20 23 15 18 10 21 10 28 10 41 13 44 12 41 12 20 4 20 1 20-5 35-12 50-21 30-14 20-12 15-11 20-18 20-19 25-30 21-30 35-60 16-30 10-20 6-20 3-15 0-15-2-25 1-11 5-4 5 0 5 2 5 3 10 10 10 13 8 12 5 10 2 7 8 48 4 45 1 15-1 10-6 30-9 30-14 30-12 20-13 15-38 35-30 24-60 41-50 33-20 10-30 10-20 3-15-1-10-2-30-11-15-4-15-3-15-1-10 1-10 3-40 16-26 6-73 0-21-6-15-6-30-15-25-16-22-17-10-10-7-10-40-60-29-55-7-11-16-19-9-13-20-37-5-15-8-25-6-15-26-40-7-15-3-10-3-15 0-60 2-40 1-35 3-20 10-25 25-50 50-70 27-30 25-22 15-11 35-23 35-21 25-11 45-15 35-8 37-4zM292-133l0-2 1 2-1 1 0-1zM296-128l1-1 0 1 1 5-1 1-1-6zM301-118l1-1 2 6-2 2-1-7zM305-108l2-2 1 2 0 5-1 2-2-7zM-41 197l8-2 5 0 5 3 5 4 3 5 1 5-1 5-3 5-10 5-5 0-10-1-6-4-3-5 0-5 4-9 7-6z"/>
<path fill="#16ff00" fill-rule="evenodd" d="M-87-393l59-3 20 1 20 2 25 4 25 6 20 7 20 9 30 16 20 13 18 15 19 20 12 15 8 15 3 10 1 10 0 5-2 5-4 3-5 2-10 1-10-2-35-12-40-17-60-22-15-3-15-3-40-3-20 1-23 5-67 20-37 15-30 15-14 10-11 10-29 35-29 27-35 38-15 19-9 16-6 15-5 16-11 49-3 20-3 50-6 40 1 10 4 5 18 14 10 12 6 9 5 10 3 10 1 25 2 5 4 5 42 40 20 15 45 30 16 10 19 10 37 15 48 15 52 15 50 17 15 3 10 0 15-4 35-14 60-27 25-12 15-8 15-11 15-12 20-18 25-28 17-21 13-19 22-36 45-80 9-20 9-24 5-5 5 1 5 5 5 6 5 9 5 11 8 22 4 20 4 45 0 10-2 15-7 30-10 25-15 30-10 15-12 13-30 27-20 17-49 33-34 25-32 21-20 11-25 9-15 3-10 2-10 0-10-1-15-4-55-20-10-2-5 0-10 3-40 20-20 7-40 8-20 1-10-1-15-4-35-12-30-14-25-15-16-12-15-15-11-15-29-45-8-15-7-15-14-37-13-28-7-20-3-5-22-20-6-10-4-10-1-5-1-10 1-25-1-5-6-5-17-11-15-14-10-16-8-19-2-20-2-50 3-65 3-20 9-25 24-50 9-15 39-55 26-30 28-25 41-29 30-18 30-15 40-14 40-10 31-4z"/>
<path fill="#2fff00" fill-rule="evenodd" d="M-97-388l24-2 40-1 20 0 20 2 20 3 20 4 25 8 20 8 25 12 25 14 16 12 16 15 14 15 10 15 5 15 0 10-2 5-4 4-5 2-10 1-10-1-25-8-45-18-60-21-30-6-40-3-15 1-21 4-69 20-26 10-34 15-23 15-17 15-25 29-35 33-30 36-10 14-8 13-7 16-5 14-6 20-9 40-6 50-4 20-5 10-5 5-5 3-5 0-5-1-5-2-5-4-5-6-5-8-5-12-2-10-4-50 1-65 3-20 7-20 22-50 11-20 35-50 24-30 15-15 17-15 31-23 40-26 20-10 15-6 25-9 25-7 25-6 21-3zM369 77l3-3 5-2 5 1 5 4 5 5 10 16 3 9 4 15 3 25 0 15-1 15-3 15-9 30-9 20-11 20-10 15-8 10-34 31-20 16-45 29-52 39-23 14-15 8-15 5-15 3-15 2-10 0-15-2-15-5-20-9-10-6-9-10-3-5-2-5 2-5 6-5 15-10 9-5 82-38 25-14 15-10 15-12 32-31 18-21 21-29 14-22 45-76 20-29 7-8zM-289 257l11 3 15 7 65 39 30 14 20 7 45 15 55 16 35 14 19 10 6 5 2 5-2 5-7 10-10 10-18 12-10 4-15 6-30 7-20 2-20-1-30-8-25-10-30-16-25-16-17-15-15-20-25-40-7-15-6-15-2-15 2-12 1-3 4-5 4 0z"/>
<path fill="#4eff00" fill-rule="evenodd" d="M-105-383l22-2 40-2 25 0 20 1 20 3 20 5 30 9 20 8 25 12 20 11 15 10 17 15 13 15 9 15 4 10 0 5-1 5-2 5-5 3-7 2-8 0-15-2-20-7-85-33-10-3-30-5-40-3-15 1-15 2-38 10-50 15-47 20-25 15-18 15-27 29-30 29-10 12-30 40-14 25-11 30-12 45-8 50-5 16-5 10-5 4-5 1-5-1-5-2-7-8-5-10-4-15-3-20-2-20 0-20 1-40 2-20 8-25 22-50 8-15 34-50 24-30 27-27 22-18 43-29 25-14 30-12 40-12 38-8zM366 92l6-3 5 1 5 2 5 3 5 6 5 7 4 9 3 15 3 20 0 15-4 25-4 15-6 15-9 20-11 20-7 10-9 11-20 18-30 24-48 32-53 40-19 12-15 8-15 5-15 3-15 2-10-1-10-1-15-5-15-7-7-6-7-10-1-5 1-5 3-5 5-5 7-5 17-10 67-32 25-14 25-19 30-29 20-23 24-33 46-77 15-22 10-13 9-8zM-280 277l2-2 5-2 5 1 10 3 20 9 46 26 24 11 57 19 53 16 25 9 18 10 7 5 4 5 1 5-4 10-6 10-6 5-14 9-20 8-30 7-20 1-15-1-25-7-25-10-25-12-25-16-17-14-14-15-20-30-8-15-4-10-3-10-1-10 2-10 3-5z"/>
<path fill="#73ff00" fill-rule="evenodd" d="M-113-378l25-3 30-1 35-1 25 2 20 3 19 5 56 20 20 9 20 10 15 11 11 10 13 15 9 15 2 10 0 5-4 5-6 3-5 1-10 0-10-2-23-7-52-20-20-8-15-5-30-5-40-4-15 1-20 3-64 18-30 10-25 10-16 7-21 13-13 10-10 10-56 57-35 46-15 26-11 26-11 40-13 57-5 13-5 7-5 2-5 0-5-4-6-10-5-15-4-20-2-20 0-20 2-30 2-20 8-25 22-50 8-15 34-50 24-30 25-25 25-20 37-25 30-17 25-10 30-9 40-9zM365 102l2-1 5-1 5 1 8 6 7 8 5 12 3 10 2 15 0 15-4 25-4 15-6 15-19 35-14 20-13 12-35 29-50 33-55 41-25 15-15 7-10 3-15 2-10 1-10-1-10-2-13-5-8-5-5-5-5-10 0-5 2-5 4-5 13-10 18-10 54-26 20-12 15-10 15-13 30-29 15-18 25-35 40-66 15-23 15-18 8-5zM-267 287l4-2 5 0 10 2 15 7 45 23 20 9 50 16 55 17 22 8 10 5 7 5 6 5 3 5 1 5-3 10-7 10-6 5-8 5-20 8-25 5-20 2-15-2-20-5-25-10-26-13-24-15-18-15-14-15-16-25-9-20-2-10 0-10 2-5 3-5z"/>
<path fill="#98ff00" fill-rule="evenodd" d="M-76-378l58 0 20 1 15 3 22 6 33 13 40 13 15 7 15 9 10 8 10 10 12 15 4 10 2 5-1 5-2 4-5 3-5 2-10 0-10-2-15-4-22-8-26-10-27-12-15-5-35-5-40-3-15 1-15 3-60 16-40 13-35 15-13 7-15 10-22 20-50 50-15 19-20 27-15 24-11 25-6 20-18 65-5 15-5 8-5 3-5-1-5-5-5-10-4-15-2-15-1-20 1-30 1-15 3-15 5-15 14-35 12-25 36-55 15-20 22-25 28-25 40-28 30-18 25-10 35-11 45-10 32-3zM360 112l7-3 5 0 5 2 5 4 5 6 5 10 3 11 2 14 0 11-1 10-2 15-9 25-7 15-11 19-15 21-15 14-30 25-45 29-71 52-19 11-20 7-20 3-10-1-10-2-9-3-8-5-4-5-3-5-1-5 1-5 4-5 5-5 23-15 57-28 15-9 25-19 30-30 15-18 25-35 50-81 15-19 8-6zM-257 297l4-2 5-1 10 3 50 23 20 8 100 32 20 7 9 5 8 5 5 5 3 5 0 5-1 5-6 10-4 5-7 5-17 8-20 5-20 1-15 0-20-5-20-7-25-12-25-16-20-15-14-14-11-15-10-20-3-15 1-10 3-5z"/>
<path fill="#b8ff00" fill-rule="evenodd" d="M-94-373l21-1 40 0 25 1 15 2 15 3 14 5 31 14 30 7 15 5 15 6 10 6 9 7 11 10 8 10 5 10 2 5 0 5-3 5-7 3-5 1-10-1-15-3-40-15-35-16-15-5-35-5-40-2-15 1-15 2-65 18-38 12-32 14-25 15-20 16-51 50-13 15-12 15-24 35-13 25-10 25-17 56-5 14-5 9-5 4-5-2-5-8-3-8-2-10-1-15 0-40 1-10 3-15 17-45 11-25 39-60 15-20 22-25 23-21 35-25 30-18 25-12 27-9 48-11 24-4zM362 117l5-1 5 2 5 3 5 5 3 6 4 10 3 10 1 10-1 15-4 20-8 20-18 32-15 21-15 14-25 20-45 28-74 55-16 10-15 6-10 2-10 1-10 0-10-2-5-2-7-5-4-5-2-5 0-5 3-5 4-5 7-5 15-10 49-24 15-8 25-20 30-29 15-19 25-35 40-66 10-15 15-18 5-4 5-2zM-248 307l5-3 5-1 10 3 55 23 100 32 18 6 12 7 5 3 5 5 3 5 0 5-2 5-7 10-9 7-15 7-20 5-15 1-15-1-15-3-20-7-20-10-24-14-21-15-16-15-12-15-7-15-2-10 0-5 0-5 2-5z"/>
<path fill="#d4ff00" fill-rule="evenodd" d="M-104-368l21-2 30 0 35 1 20 3 15 3 14 5 10 5 16 11 5 2 10 2 20 1 20 4 20 10 10 7 9 8 8 10 4 10 1 5-3 5-4 2-10 2-20-4-39-15-31-16-15-5-25-3-50-3-25 3-25 6-70 20-24 8-16 7-25 14-25 19-47 45-14 15-12 15-25 35-15 25-11 25-16 49-5 12-5 9-5 2-5-5-1-2-3-10-2-15 0-20 1-15 5-24 15-41 10-22 39-63 15-20 23-25 22-20 34-25 26-15 21-10 27-10 28-7 39-8zM355 127l7-3 5 0 5 3 5 4 4 6 4 10 2 8 1 12 0 10-4 20-8 20-19 31-14 19-11 10-25 20-15 9-25 14-10 7-45 32-28 23-15 10-17 6-15 2-13-3-8-5-4-5-2-5 2-5 4-5 5-5 15-10 10-5 31-14 15-8 10-7 15-12 25-25 20-24 25-36 40-66 10-15 10-12 8-6zM-238 317l5-5 5 0 5 1 55 21 76 23 29 10 11 5 7 5 5 5 3 5-1 5-5 10-10 9-10 5-15 4-15 2-15 0-15-3-20-6-20-9-19-12-21-15-18-15-8-10-8-15-2-10 1-10z"/>
<path fill="#f1ff00" fill-rule="evenodd" d="M-110-363l17-2 20-1 50 2 20 2 15 4 13 5 8 5 5 5 9 10 5 5 5 2 5 0 20-5 10-1 10 1 10 3 10 4 10 6 13 10 7 10 2 5 1 5-2 5-6 3-10 0-10-2-19-6-21-9-11-6-24-18-85-3-20 2-20 5-80 22-35 13-25 13-25 17-47 44-29 30-22 30-20 30-10 20-17 46-5 10-5 6-4-2-1-1-1-4-3-15 0-15 1-10 3-15 20-55 10-20 34-55 11-15 13-15 19-20 18-15 30-22 25-15 20-10 25-9 20-5 43-9zM356 132l6-1 5 1 5 4 4 6 6 15 1 10 0 10-4 20-7 18-15 25-15 20-15 15-25 18-15 8-30 14-45 31-10 8-23 23-12 8-10 5-10 2-10-1-9-4-4-5-1-5 2-5 5-5 17-11 10-4 30-12 10-5 20-16 20-19 20-25 13-18 26-40 36-60 15-19 9-6zM-222 322l9 0 35 12 61 18 47 15 11 5 8 5 4 5 3 5-1 5-3 5-4 5-6 5-10 5-15 4-15 2-15-1-15-4-15-5-20-10-17-11-19-15-17-15-7-10-3-10-1-5 1-5 4-5z"/>
<path fill="#fff200" fill-rule="evenodd" d="M-114-358l21-3 15 0 55 4 15 2 11 2 12 5 6 5 4 5 1 5-4 3-5 2-15 1-40-1-20 3-110 31-25 10-25 14-20 14-21 18-37 35-23 25-16 20-21 30-15 25-12 26-5 4-2-10 2-14 10-36 9-25 41-70 14-20 18-20 18-17 23-18 22-14 20-12 21-9 19-7 20-5 39-8zM83-323l9-2 10 0 10 2 12 5 8 5 10 10 3 5 1 5-2 5-7 2-15-1-17-6-11-5-9-5-6-5-4-5 0-5 8-5zM349 142l3-3 5-1 5 0 5 3 5 6 5 15 1 15-2 15-5 15-9 17-15 22-10 12-10 10-15 11-15 9-15 6-20 4-5 0-3-1 0-5 5-10 40-65 23-40 15-23 12-12zM-203 332l60 15 35 10 30 10 11 5 9 5 5 5 1 5-1 5-5 7-10 7-10 4-10 2-10 1-15-1-15-3-10-4-17-8-15-10-18-15-15-15-6-10-2-5 0-5 3-4 5-1zM161 357l11-2 5 1 1 1-1 5-8 10-7 5-10 3-5 0-7-3-1-5 3-5 8-5 11-5z"/>
<path fill="#ffd700" fill-rule="evenodd" d="M-115-353l22-2 25 1 20 4 35 6 4 1 2 5-31 2-10 2-50 16-65 18-25 9-20 10-15 10-15 10-43 38-41 40-31 37-5 4-3-1 0-5 3-12 13-23 16-35 6-9 11-16 12-15 15-15 11-10 19-15 22-15 18-10 21-10 31-10 48-10zM96-318l11 0 14 5 7 5 4 4 3 6-3 4-5 2-10-2-13-4-9-5-6-5-1-5 4-4 4-1zM350 147l2-2 5 0 5 2 5 5 2 5 4 10 0 10-1 12-4 13-6 13-20 29-10 11-10 9-10 7-15 8-10 3-5 1-7-1-3-2-1-3 1-5 9-20 46-79 15-20 8-6zM-189 347l6-3 5 0 20 3 23 5 34 10 27 10 8 5 5 5 1 5-2 5-6 6-10 6-10 3-10 1-10 0-20-4-15-6-10-6-19-15-13-15-4-10 0-5z"/>
<path fill="#ffbc00" fill-rule="evenodd" d="M-109-348l16-1 15 2 8 4 2 5-5 5-11 5-14 5-75 22-25 10-20 11-20 14-80 68-5 2-3-2 1-10 7-15 16-25 13-15 10-10 11-10 20-15 15-10 18-10 21-10 13-5 23-6 49-9zM344 157l3-3 5-2 5 2 5 4 4 9 2 10-1 10-2 10-5 10-13 21-10 13-11 11-14 10-10 5-10 2-5-1-2-1-2-5 3-10 5-10 36-64 10-14 7-7zM-169 352l11-1 10 2 20 4 33 10 12 5 9 5 5 5 0 5-3 5-6 4-5 3-10 3-10 1-10-1-15-4-10-4-10-6-13-11-8-10-2-5 0-5 2-5z"/>
<path fill="#ffa200" fill-rule="evenodd" d="M-118-338l10-1 10 1 1 5-10 5-71 22-15 6-10 5-30 19-40 34-20 14-5 3-5 0 0-5 5-11 5-8 12-14 10-10 12-10 29-20 30-15 25-10 20-5 37-5zM346 162l6-1 5 5 3 6 1 5 0 5-1 10-6 15-12 17-10 12-10 9-10 6-5 2-5 1-5 0-1-2 0-5 1-5 20-40 15-26 10-11 4-3zM-156 362l3-3 5-1 25 4 17 5 13 5 9 5 5 5-2 5-2 2-4 3-6 2-10 2-15-2-10-3-9-4-7-5-9-10-2-5-1-5z"/>
<path fill="#ff8a00" fill-rule="evenodd" d="M347 172l5 5 1 10-1 5-5 12-10 13-10 9-10 6-5 0 0-5 5-14 10-21 10-15 5-4 5-1zM-135 367l10 0 19 5 9 5 1 5-7 4-5 0-5 0-10-3-9-6-4-5 1-5z"/>
</g></g>
<circle r="7.6" fill="#fff"/>
<circle r="72" fill="none" stroke="#000" stroke-width="1.7" stroke-dasharray="4.2 2.8" stroke-dashoffset="1"/>
<circle r="55.5" fill="none" stroke="#000" stroke-width="1.7" stroke-dasharray="4.2 2.8"/>
</g>
<g font-size="4.8" font-weight="bold" text-anchor="middle" fill="#001">
<rect x="389.2" y="30.8" width="8.9" height="4.5" fill="#fff"/>
<text x="393.6" y="34.5" textLength="7.8" lengthAdjust="spacingAndGlyphs">1156</text>
<rect x="387.6" y="48.4" width="8.9" height="4.5" fill="#fff"/>
<text x="392.0" y="52.1" textLength="7.8" lengthAdjust="spacingAndGlyphs">2334</text>
<rect x="418.6" y="62.8" width="8.9" height="4.5" fill="#fff"/>
<text x="423.0" y="66.5" textLength="7.8" lengthAdjust="spacingAndGlyphs">2013</text>
<rect x="438.1" y="59.8" width="9.9" height="4.5" fill="#fff"/>
<text x="443.0" y="63.5" textLength="8.8" lengthAdjust="spacingAndGlyphs">513.3</text>
<rect x="448.1" y="67.8" width="9.9" height="4.5" fill="#fff"/>
<text x="453.0" y="71.5" textLength="8.8" lengthAdjust="spacingAndGlyphs">85.00</text>
<rect x="459.1" y="88.8" width="9.9" height="4.5" fill="#fff"/>
<text x="464.0" y="92.5" textLength="8.8" lengthAdjust="spacingAndGlyphs">299.2</text>
<rect x="427.2" y="75.8" width="8.9" height="4.5" fill="#fff"/>
<text x="431.6" y="79.5" textLength="7.8" lengthAdjust="spacingAndGlyphs">1370</text>
<rect x="380.1" y="77.8" width="9.9" height="4.5" fill="#fff"/>
<text x="385.0" y="81.5" textLength="8.8" lengthAdjust="spacingAndGlyphs">727.5</text>
<rect x="414.1" y="86.3" width="9.9" height="4.5" fill="#fff"/>
<text x="419.0" y="90.1" textLength="8.8" lengthAdjust="spacingAndGlyphs">513.3</text>
<rect x="397.5" y="93.8" width="9.9" height="4.5" fill="#fff"/>
<text x="402.4" y="97.5" textLength="8.8" lengthAdjust="spacingAndGlyphs">620.4</text>
<rect x="421.1" y="98.3" width="9.9" height="4.5" fill="#fff"/>
<text x="426.0" y="102.1" textLength="8.8" lengthAdjust="spacingAndGlyphs">834.6</text>
<rect x="419.6" y="116.3" width="8.9" height="4.5" fill="#fff"/>
<text x="424.0" y="120.1" textLength="7.8" lengthAdjust="spacingAndGlyphs">1156</text>
<rect x="406.1" y="125.8" width="9.9" height="4.5" fill="#fff"/>
<text x="411.0" y="129.5" textLength="8.8" lengthAdjust="spacingAndGlyphs">941.7</text>
<rect x="385.1" y="129.8" width="9.9" height="4.5" fill="#fff"/>
<text x="390.0" y="133.5" textLength="8.8" lengthAdjust="spacingAndGlyphs">513.3</text>
<rect x="424.9" y="130.8" width="8.9" height="4.5" fill="#fff"/>
<text x="429.4" y="134.5" textLength="7.8" lengthAdjust="spacingAndGlyphs">1370</text>
<rect x="458.6" y="131.8" width="8.9" height="4.5" fill="#fff"/>
<text x="463.0" y="135.5" textLength="7.8" lengthAdjust="spacingAndGlyphs">1798</text>
<rect x="457.6" y="144.8" width="8.9" height="4.5" fill="#fff"/>
<text x="462.0" y="148.5" textLength="7.8" lengthAdjust="spacingAndGlyphs">2227</text>
<rect x="389.6" y="142.8" width="8.9" height="4.5" fill="#fff"/>
<text x="394.0" y="146.5" textLength="7.8" lengthAdjust="spacingAndGlyphs">1049</text>
<rect x="413.6" y="142.8" width="8.9" height="4.5" fill="#fff"/>
<text x="418.0" y="146.5" textLength="7.8" lengthAdjust="spacingAndGlyphs">1370</text>
<rect x="397.6" y="154.3" width="8.9" height="4.5" fill="#fff"/>
<text x="402.0" y="158.1" textLength="7.8" lengthAdjust="spacingAndGlyphs">1477</text>
<rect x="439.6" y="178.8" width="8.9" height="4.5" fill="#fff"/>
<text x="444.0" y="182.5" textLength="7.8" lengthAdjust="spacingAndGlyphs">3441</text>
<rect x="420.6" y="190.8" width="8.9" height="4.5" fill="#fff"/>
<text x="425.0" y="194.5" textLength="7.8" lengthAdjust="spacingAndGlyphs">2548</text>
<rect x="405.6" y="193.8" width="8.9" height="4.5" fill="#fff"/>
<text x="410.0" y="197.5" textLength="7.8" lengthAdjust="spacingAndGlyphs">2655</text>
<rect x="395.1" y="177.8" width="11.8" height="4.5" fill="#fff"/>
<text x="401.0" y="181.5" textLength="10.7" lengthAdjust="spacingAndGlyphs">−129.2</text>
<rect x="368.1" y="177.8" width="11.8" height="4.5" fill="#fff"/>
<text x="374.0" y="181.5" textLength="10.7" lengthAdjust="spacingAndGlyphs">−129.2</text>
<rect x="344.1" y="162.2" width="9.9" height="4.5" fill="#fff"/>
<text x="349.0" y="165.9" textLength="8.8" lengthAdjust="spacingAndGlyphs">85.00</text>
<rect x="337.6" y="177.8" width="8.9" height="4.5" fill="#fff"/>
<text x="342.0" y="181.5" textLength="7.8" lengthAdjust="spacingAndGlyphs">2441</text>
<rect x="338.6" y="189.8" width="8.9" height="4.5" fill="#fff"/>
<text x="343.0" y="193.5" textLength="7.8" lengthAdjust="spacingAndGlyphs">2120</text>
<rect x="363.6" y="190.8" width="8.9" height="4.5" fill="#fff"/>
<text x="368.0" y="194.5" textLength="7.8" lengthAdjust="spacingAndGlyphs">3083</text>
<rect x="374.6" y="194.8" width="8.9" height="4.5" fill="#fff"/>
<text x="379.0" y="198.5" textLength="7.8" lengthAdjust="spacingAndGlyphs">2227</text>
<rect x="317.6" y="158.8" width="8.9" height="4.5" fill="#fff"/>
<text x="322.0" y="162.5" textLength="7.8" lengthAdjust="spacingAndGlyphs">1691</text>
<rect x="322.1" y="133.3" width="9.9" height="4.5" fill="#fff"/>
<text x="327.0" y="137.1" textLength="8.8" lengthAdjust="spacingAndGlyphs">192.1</text>
<rect x="322.1" y="119.8" width="9.9" height="4.5" fill="#fff"/>
<text x="327.0" y="123.5" textLength="8.8" lengthAdjust="spacingAndGlyphs">406.3</text>
<rect x="306.6" y="122.3" width="8.9" height="4.5" fill="#fff"/>
<text x="311.0" y="126.1" textLength="7.8" lengthAdjust="spacingAndGlyphs">1905</text>
<rect x="355.1" y="132.8" width="9.9" height="4.5" fill="#fff"/>
<text x="360.0" y="136.5" textLength="8.8" lengthAdjust="spacingAndGlyphs">299.2</text>
<rect x="362.6" y="152.8" width="8.9" height="4.5" fill="#fff"/>
<text x="367.0" y="156.5" textLength="7.8" lengthAdjust="spacingAndGlyphs">1156</text>
<rect x="375.6" y="158.3" width="8.9" height="4.5" fill="#fff"/>
<text x="380.0" y="162.1" textLength="7.8" lengthAdjust="spacingAndGlyphs">1584</text>
<rect x="334.1" y="112.2" width="9.9" height="4.5" fill="#fff"/>
<text x="339.0" y="115.9" textLength="8.8" lengthAdjust="spacingAndGlyphs">727.5</text>
<rect x="348.1" y="90.3" width="9.9" height="4.5" fill="#fff"/>
<text x="353.0" y="94.1" textLength="8.8" lengthAdjust="spacingAndGlyphs">620.4</text>
<rect x="362.1" y="81.8" width="9.9" height="4.5" fill="#fff"/>
<text x="367.0" y="85.5" textLength="8.8" lengthAdjust="spacingAndGlyphs">834.6</text>
<rect x="373.1" y="93.8" width="9.9" height="4.5" fill="#fff"/>
<text x="378.0" y="97.5" textLength="8.8" lengthAdjust="spacingAndGlyphs">192.1</text>
<rect x="357.1" y="107.8" width="9.9" height="4.5" fill="#fff"/>
<text x="362.0" y="111.5" textLength="8.8" lengthAdjust="spacingAndGlyphs">85.00</text>
<rect x="326.6" y="82.8" width="8.9" height="4.5" fill="#fff"/>
<text x="331.0" y="86.5" textLength="7.8" lengthAdjust="spacingAndGlyphs">1691</text>
<rect x="311.6" y="71.8" width="8.9" height="4.5" fill="#fff"/>
<text x="316.0" y="75.5" textLength="7.8" lengthAdjust="spacingAndGlyphs">2227</text>
<rect x="329.6" y="54.8" width="8.9" height="4.5" fill="#fff"/>
<text x="334.0" y="58.5" textLength="7.8" lengthAdjust="spacingAndGlyphs">2548</text>
<rect x="362.6" y="59.8" width="8.9" height="4.5" fill="#fff"/>
<text x="367.0" y="63.5" textLength="7.8" lengthAdjust="spacingAndGlyphs">1584</text>
</g>
<g transform="translate(0 0.2)">
<g font-size="8" font-weight="bold" text-anchor="middle" fill="#111" stroke="#111" stroke-width=".25">
<text x="112.2" y="23.0">180°</text>
<text x="57.5" y="35.0">210°</text>
<text x="23.2" y="69.4">240°</text>
<text x="11.0" y="121.0">270°</text>
<text x="23.2" y="172.6">300°</text>
<text x="57.5" y="207.0">330°</text>
<text x="112.1" y="219.0">0°</text>
<text x="164.7" y="206.6">30°</text>
<text x="199.2" y="173.0">60°</text>
<text x="211.5" y="121.0">90°</text>
<text x="201.5" y="69.6">120°</text>
<text x="166.7" y="35.4">150°</text>
</g>
<text x="41" y="12.6" font-size="8.9" font-weight="bold" fill="#f00" stroke="#f00" stroke-width=".25" textLength="62.6" lengthAdjust="spacingAndGlyphs">Flap boundaries</text>
<g stroke="#000" stroke-width="1.2" fill="#000">
<line x1="72.9" y1="14.4" x2="88.6" y2="44.2"/><path d="M90.7 48l-5-5.2 3.7-2z" stroke="none"/>
<line x1="72.9" y1="14.4" x2="81" y2="68"/><path d="M81.7 72.6l-3-6.4 4.2-.6z" stroke="none"/>
</g>
<rect x="224.4" y="28.8" width="11.6" height="178.8" fill="url(#cb)"/>
<text x="184.4" y="25.8" font-size="8.15" font-weight="bold" fill="#111" stroke="#111" stroke-width=".2" textLength="87.6" lengthAdjust="spacingAndGlyphs">Aerodynamic loads(N/m)</text>
<g font-size="7.4" font-weight="bold" fill="#111" stroke="#111" stroke-width=".2">
<line x1="236" y1="31.5" x2="238.2" y2="31.5" stroke="#222" stroke-width=".6"/>
<text x="242.4" y="34.9">3940</text>
<line x1="236" y1="53.1" x2="238.2" y2="53.1" stroke="#222" stroke-width=".6"/>
<text x="242.4" y="56.5">3298</text>
<line x1="236" y1="74.8" x2="238.2" y2="74.8" stroke="#222" stroke-width=".6"/>
<text x="242.4" y="78.2">2655</text>
<line x1="236" y1="96.4" x2="238.2" y2="96.4" stroke="#222" stroke-width=".6"/>
<text x="242.4" y="99.8">2013</text>
<line x1="236" y1="118.0" x2="238.2" y2="118.0" stroke="#222" stroke-width=".6"/>
<text x="242.4" y="121.4">1370</text>
<line x1="236" y1="139.6" x2="238.2" y2="139.6" stroke="#222" stroke-width=".6"/>
<text x="242.4" y="143.0">727.5</text>
<line x1="236" y1="161.2" x2="238.2" y2="161.2" stroke="#222" stroke-width=".6"/>
<text x="242.4" y="164.7">85.00</text>
<line x1="236" y1="182.9" x2="238.2" y2="182.9" stroke="#222" stroke-width=".6"/>
<text x="242.4" y="186.3">−557.5</text>
<line x1="236" y1="204.5" x2="238.2" y2="204.5" stroke="#222" stroke-width=".6"/>
<text x="242.4" y="207.9">−1200</text>
</g>
</g>
<g transform="translate(275.7 0.6)">
<g font-size="8" font-weight="bold" text-anchor="middle" fill="#111" stroke="#111" stroke-width=".25">
<text x="112.2" y="23.0">180°</text>
<text x="57.5" y="35.0">210°</text>
<text x="23.2" y="69.4">240°</text>
<text x="11.0" y="121.0">270°</text>
<text x="23.2" y="172.6">300°</text>
<text x="57.5" y="207.0">330°</text>
<text x="112.1" y="219.0">0°</text>
<text x="164.7" y="206.6">30°</text>
<text x="199.2" y="173.0">60°</text>
<text x="211.5" y="121.0">90°</text>
<text x="201.5" y="69.6">120°</text>
<text x="166.7" y="35.4">150°</text>
</g>
<text x="41" y="12.6" font-size="8.9" font-weight="bold" fill="#f00" stroke="#f00" stroke-width=".25" textLength="62.6" lengthAdjust="spacingAndGlyphs">Flap boundaries</text>
<g stroke="#000" stroke-width="1.2" fill="#000">
<line x1="72.9" y1="14.4" x2="88.6" y2="44.2"/><path d="M90.7 48l-5-5.2 3.7-2z" stroke="none"/>
<line x1="72.9" y1="14.4" x2="81" y2="68"/><path d="M81.7 72.6l-3-6.4 4.2-.6z" stroke="none"/>
</g>
<rect x="223.9" y="28.8" width="11.6" height="178.8" fill="url(#cb)"/>
<text x="184.4" y="25.8" font-size="8.15" font-weight="bold" fill="#111" stroke="#111" stroke-width=".2" textLength="87.6" lengthAdjust="spacingAndGlyphs">Aerodynamic loads(N/m)</text>
<g font-size="7.4" font-weight="bold" fill="#111" stroke="#111" stroke-width=".2">
<line x1="235.5" y1="31.5" x2="237.7" y2="31.5" stroke="#222" stroke-width=".6"/>
<text x="242.4" y="34.9">3940</text>
<line x1="235.5" y1="53.1" x2="237.7" y2="53.1" stroke="#222" stroke-width=".6"/>
<text x="242.4" y="56.5">3298</text>
<line x1="235.5" y1="74.8" x2="237.7" y2="74.8" stroke="#222" stroke-width=".6"/>
<text x="242.4" y="78.2">2655</text>
<line x1="235.5" y1="96.4" x2="237.7" y2="96.4" stroke="#222" stroke-width=".6"/>
<text x="242.4" y="99.8">2013</text>
<line x1="235.5" y1="118.0" x2="237.7" y2="118.0" stroke="#222" stroke-width=".6"/>
<text x="242.4" y="121.4">1370</text>
<line x1="235.5" y1="139.6" x2="237.7" y2="139.6" stroke="#222" stroke-width=".6"/>
<text x="242.4" y="143.0">727.5</text>
<line x1="235.5" y1="161.2" x2="237.7" y2="161.2" stroke="#222" stroke-width=".6"/>
<text x="242.4" y="164.7">85.00</text>
<line x1="235.5" y1="182.9" x2="237.7" y2="182.9" stroke="#222" stroke-width=".6"/>
<text x="242.4" y="186.3">−557.5</text>
<line x1="235.5" y1="204.5" x2="237.7" y2="204.5" stroke="#222" stroke-width=".6"/>
<text x="242.4" y="207.9">−1200</text>
</g>
</g>
</svg>
<div class="cap" style="left:93.2px">(<b>a</b>) μ = 0.1</div>
<div class="cap" style="left:364.4px">(<b>b</b>) μ = 0.2</div>
</body></html>
